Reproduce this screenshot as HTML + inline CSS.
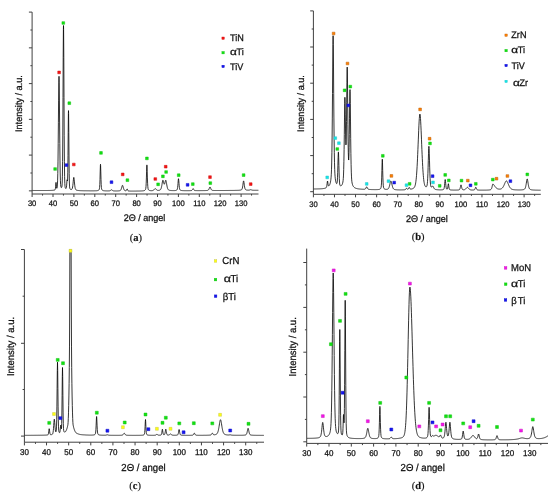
<!DOCTYPE html>
<html lang="en"><head><meta charset="utf-8"><title>XRD patterns</title>
<style>
html,body{margin:0;padding:0;background:#fff}
body{width:550px;height:497px;overflow:hidden}
svg{display:block;text-rendering:geometricPrecision;font-family:"Liberation Sans","DejaVu Sans",sans-serif}
</style></head><body>
<svg width="550" height="497" viewBox="0 0 550 497">
<rect width="550" height="497" fill="#fff"/>
<defs>
<clipPath id="clipa"><rect x="32.10" y="11.80" width="228.40" height="181.90"/></clipPath>
<clipPath id="clipb"><rect x="313.40" y="10.60" width="229.40" height="183.40"/></clipPath>
<clipPath id="clipc"><rect x="24.40" y="249.20" width="241.60" height="192.70"/></clipPath>
<clipPath id="clipd"><rect x="306.70" y="248.30" width="243.30" height="194.80"/></clipPath>
</defs>
<g id="panel-a">
<path d="M32.10 12.10V194.00H258.50M32.10 194.00v3.00M42.55 194.00v1.60M53.00 194.00v3.00M63.45 194.00v1.60M73.90 194.00v3.00M84.35 194.00v1.60M94.80 194.00v3.00M105.25 194.00v1.60M115.70 194.00v3.00M126.15 194.00v1.60M136.60 194.00v3.00M147.05 194.00v1.60M157.50 194.00v3.00M167.95 194.00v1.60M178.40 194.00v3.00M188.85 194.00v1.60M199.30 194.00v3.00M209.75 194.00v1.60M220.20 194.00v3.00M230.65 194.00v1.60M241.10 194.00v3.00M251.55 194.00v1.60M32.10 12.10h-3.20M32.10 30.00h-1.70M32.10 47.85h-3.20M32.10 65.70h-1.70M32.10 83.60h-3.20M32.10 101.50h-1.70M32.10 119.35h-3.20M32.10 137.20h-1.70M32.10 155.10h-3.20M32.10 173.00h-1.70M32.10 190.85h-3.20" fill="none" stroke="#404040" stroke-width="1.00"/>
<g fill="#111" stroke="#111" stroke-width="0.25">
<text transform="translate(32.10 206.20) scale(1.000 1.050)" font-size="7.60" text-anchor="middle">30</text>
<text transform="translate(53.00 206.20) scale(1.000 1.050)" font-size="7.60" text-anchor="middle">40</text>
<text transform="translate(73.90 206.20) scale(1.000 1.050)" font-size="7.60" text-anchor="middle">50</text>
<text transform="translate(94.80 206.20) scale(1.000 1.050)" font-size="7.60" text-anchor="middle">60</text>
<text transform="translate(115.70 206.20) scale(1.000 1.050)" font-size="7.60" text-anchor="middle">70</text>
<text transform="translate(136.60 206.20) scale(1.000 1.050)" font-size="7.60" text-anchor="middle">80</text>
<text transform="translate(157.50 206.20) scale(1.000 1.050)" font-size="7.60" text-anchor="middle">90</text>
<text transform="translate(178.40 206.20) scale(1.000 1.050)" font-size="7.60" text-anchor="middle">100</text>
<text transform="translate(199.30 206.20) scale(1.000 1.050)" font-size="7.60" text-anchor="middle">110</text>
<text transform="translate(220.20 206.20) scale(1.000 1.050)" font-size="7.60" text-anchor="middle">120</text>
<text transform="translate(241.10 206.20) scale(1.000 1.050)" font-size="7.60" text-anchor="middle">130</text>
<text transform="translate(144.50 221.00) scale(1.000 1.050)" font-size="9.05" text-anchor="middle">2Θ / angel</text>
<text transform="translate(22.20 103.60) rotate(-90) scale(1.000 1.050)" font-size="9.15" text-anchor="middle">Intensity / a.u.</text>
</g>
<path clip-path="url(#clipa)" d="M32.40 190.48 L32.60 190.48 L32.80 190.48 L33.00 190.48 L33.20 190.48 L33.40 190.48 L33.60 190.48 L33.80 190.48 L34.00 190.48 L34.20 190.48 L34.40 190.49 L34.60 190.49 L34.80 190.49 L35.00 190.49 L35.20 190.49 L35.40 190.49 L35.60 190.49 L35.80 190.49 L36.00 190.49 L36.20 190.49 L36.40 190.49 L36.60 190.49 L36.80 190.50 L37.00 190.50 L37.20 190.50 L37.40 190.50 L37.60 190.50 L37.80 190.50 L38.00 190.50 L38.20 190.50 L38.40 190.50 L38.60 190.50 L38.80 190.50 L39.00 190.50 L39.20 190.50 L39.40 190.50 L39.60 190.51 L39.80 190.51 L40.00 190.51 L40.20 190.51 L40.40 190.51 L40.60 190.51 L40.80 190.51 L41.00 190.51 L41.20 190.51 L41.40 190.51 L41.60 190.51 L41.80 190.51 L42.00 190.51 L42.20 190.51 L42.40 190.51 L42.60 190.51 L42.80 190.51 L43.00 190.51 L43.20 190.51 L43.40 190.51 L43.60 190.51 L43.80 190.51 L44.00 190.51 L44.20 190.51 L44.40 190.51 L44.60 190.51 L44.80 190.51 L45.00 190.51 L45.20 190.51 L45.40 190.51 L45.60 190.51 L45.80 190.51 L46.00 190.50 L46.20 190.50 L46.40 190.50 L46.60 190.50 L46.80 190.50 L47.00 190.50 L47.20 190.50 L47.40 190.49 L47.60 190.49 L47.80 190.49 L48.00 190.49 L48.20 190.49 L48.40 190.48 L48.60 190.48 L48.80 190.48 L49.00 190.47 L49.20 190.47 L49.40 190.47 L49.60 190.46 L49.80 190.46 L50.00 190.45 L50.20 190.45 L50.40 190.44 L50.60 190.43 L50.80 190.43 L51.00 190.42 L51.20 190.41 L51.40 190.40 L51.60 190.39 L51.80 190.38 L52.00 190.37 L52.20 190.36 L52.40 190.34 L52.60 190.33 L52.80 190.31 L53.00 190.29 L53.20 190.27 L53.40 190.24 L53.60 190.21 L53.80 190.18 L54.00 190.14 L54.20 190.10 L54.40 190.05 L54.60 189.98 L54.80 189.89 L55.00 189.76 L55.20 189.47 L55.40 188.68 L55.60 186.83 L55.80 184.06 L56.00 182.40 L56.00 182.40 L56.20 183.82 L56.40 186.34 L56.60 187.89 L56.80 188.30 L57.00 187.99 L57.20 187.03 L57.40 184.96 L57.60 180.84 L57.80 173.35 L58.00 161.16 L58.20 143.73 L58.40 122.25 L58.60 100.17 L58.80 82.94 L59.00 76.30 L59.00 76.30 L59.20 82.89 L59.40 100.05 L59.60 122.07 L59.80 143.49 L60.00 160.85 L60.20 172.96 L60.40 180.37 L60.60 184.40 L60.80 186.37 L61.00 187.25 L61.20 187.58 L61.40 187.63 L61.60 187.48 L61.80 187.05 L62.00 185.96 L62.20 183.13 L62.40 176.18 L62.60 161.35 L62.80 135.04 L63.00 97.61 L63.20 57.19 L63.40 29.45 L63.50 25.50 L63.60 29.47 L63.80 57.26 L64.00 97.72 L64.20 135.19 L64.40 161.56 L64.60 176.45 L64.80 183.45 L65.00 186.35 L65.20 187.52 L65.40 188.05 L65.60 188.33 L65.80 188.49 L66.00 188.51 L66.20 188.31 L66.40 187.58 L66.60 185.83 L66.80 183.01 L67.00 180.30 L67.10 179.70 L67.20 179.81 L67.40 180.96 L67.60 179.86 L67.80 172.23 L68.00 155.43 L68.20 132.16 L68.40 113.44 L68.50 110.60 L68.60 113.52 L68.80 132.41 L69.00 156.03 L69.20 173.64 L69.40 183.03 L69.60 186.90 L69.80 188.29 L70.00 188.84 L70.20 189.13 L70.40 189.31 L70.60 189.43 L70.80 189.51 L71.00 189.55 L71.20 189.55 L71.40 189.52 L71.60 189.45 L71.80 189.31 L72.00 189.06 L72.20 188.65 L72.40 188.00 L72.60 187.03 L72.80 185.67 L73.00 183.91 L73.20 181.84 L73.40 179.73 L73.60 178.05 L73.80 177.40 L73.80 177.40 L74.00 178.08 L74.20 179.79 L74.40 181.93 L74.60 184.02 L74.80 185.82 L75.00 187.21 L75.20 188.22 L75.40 188.91 L75.60 189.36 L75.80 189.65 L76.00 189.85 L76.20 189.99 L76.40 190.09 L76.60 190.18 L76.80 190.24 L77.00 190.30 L77.20 190.34 L77.40 190.39 L77.60 190.42 L77.80 190.45 L78.00 190.48 L78.20 190.50 L78.40 190.52 L78.60 190.54 L78.80 190.56 L79.00 190.58 L79.20 190.59 L79.40 190.60 L79.60 190.62 L79.80 190.63 L80.00 190.64 L80.20 190.65 L80.40 190.66 L80.60 190.66 L80.80 190.67 L81.00 190.68 L81.20 190.69 L81.40 190.69 L81.60 190.70 L81.80 190.71 L82.00 190.71 L82.20 190.72 L82.40 190.72 L82.60 190.73 L82.80 190.73 L83.00 190.74 L83.20 190.74 L83.40 190.74 L83.60 190.75 L83.80 190.75 L84.00 190.76 L84.20 190.76 L84.40 190.76 L84.60 190.77 L84.80 190.77 L85.00 190.77 L85.20 190.78 L85.40 190.78 L85.60 190.78 L85.80 190.78 L86.00 190.79 L86.20 190.79 L86.40 190.79 L86.60 190.79 L86.80 190.80 L87.00 190.80 L87.20 190.80 L87.40 190.80 L87.60 190.80 L87.80 190.81 L88.00 190.81 L88.20 190.81 L88.40 190.81 L88.60 190.81 L88.80 190.82 L89.00 190.82 L89.20 190.82 L89.40 190.82 L89.60 190.82 L89.80 190.82 L90.00 190.82 L90.20 190.83 L90.40 190.83 L90.60 190.83 L90.80 190.83 L91.00 190.83 L91.20 190.83 L91.40 190.83 L91.60 190.83 L91.80 190.83 L92.00 190.83 L92.20 190.83 L92.40 190.83 L92.60 190.83 L92.80 190.83 L93.00 190.83 L93.20 190.83 L93.40 190.83 L93.60 190.83 L93.80 190.83 L94.00 190.83 L94.20 190.82 L94.40 190.82 L94.60 190.82 L94.80 190.81 L95.00 190.81 L95.20 190.80 L95.40 190.80 L95.60 190.79 L95.80 190.78 L96.00 190.77 L96.20 190.76 L96.40 190.75 L96.60 190.74 L96.80 190.72 L97.00 190.70 L97.20 190.67 L97.40 190.64 L97.60 190.61 L97.80 190.56 L98.00 190.51 L98.20 190.43 L98.40 190.34 L98.60 190.22 L98.80 190.06 L99.00 189.82 L99.20 189.47 L99.40 188.81 L99.60 187.44 L99.80 184.55 L100.00 179.32 L100.20 171.93 L100.40 165.37 L100.50 164.30 L100.60 165.38 L100.80 171.93 L101.00 179.32 L101.20 184.56 L101.40 187.45 L101.60 188.83 L101.80 189.48 L102.00 189.85 L102.20 190.08 L102.40 190.25 L102.60 190.37 L102.80 190.47 L103.00 190.54 L103.20 190.60 L103.40 190.65 L103.60 190.69 L103.80 190.72 L104.00 190.75 L104.20 190.77 L104.40 190.79 L104.60 190.81 L104.80 190.82 L105.00 190.83 L105.20 190.85 L105.40 190.86 L105.60 190.86 L105.80 190.87 L106.00 190.88 L106.20 190.89 L106.40 190.89 L106.60 190.90 L106.80 190.90 L107.00 190.90 L107.20 190.90 L107.40 190.91 L107.60 190.91 L107.80 190.91 L108.00 190.91 L108.20 190.91 L108.40 190.90 L108.60 190.90 L108.80 190.89 L109.00 190.88 L109.20 190.86 L109.40 190.84 L109.60 190.80 L109.80 190.74 L110.00 190.67 L110.20 190.58 L110.40 190.46 L110.60 190.32 L110.80 190.16 L111.00 190.01 L111.20 189.88 L111.40 189.81 L111.50 189.80 L111.60 189.81 L111.80 189.89 L112.00 190.02 L112.20 190.17 L112.40 190.33 L112.60 190.47 L112.80 190.59 L113.00 190.69 L113.20 190.77 L113.40 190.83 L113.60 190.87 L113.80 190.89 L114.00 190.91 L114.20 190.93 L114.40 190.94 L114.60 190.95 L114.80 190.95 L115.00 190.96 L115.20 190.96 L115.40 190.96 L115.60 190.97 L115.80 190.97 L116.00 190.97 L116.20 190.97 L116.40 190.97 L116.60 190.96 L116.80 190.96 L117.00 190.96 L117.20 190.95 L117.40 190.95 L117.60 190.94 L117.80 190.94 L118.00 190.93 L118.20 190.92 L118.40 190.91 L118.60 190.89 L118.80 190.87 L119.00 190.86 L119.20 190.83 L119.40 190.80 L119.60 190.76 L119.80 190.71 L120.00 190.65 L120.20 190.55 L120.40 190.41 L120.60 190.22 L120.80 189.95 L121.00 189.59 L121.20 189.12 L121.40 188.53 L121.60 187.84 L121.80 187.09 L122.00 186.34 L122.20 185.71 L122.40 185.35 L122.50 185.30 L122.60 185.35 L122.80 185.72 L123.00 186.34 L123.20 187.09 L123.40 187.84 L123.60 188.53 L123.80 189.12 L124.00 189.59 L124.20 189.96 L124.40 190.22 L124.60 190.41 L124.80 190.55 L125.00 190.64 L125.20 190.70 L125.40 190.73 L125.60 190.75 L125.80 190.74 L126.00 190.70 L126.20 190.58 L126.40 190.33 L126.60 189.92 L126.80 189.39 L127.00 188.96 L127.10 188.90 L127.20 188.98 L127.40 189.43 L127.60 189.98 L127.80 190.42 L128.00 190.70 L128.20 190.85 L128.40 190.93 L128.60 190.97 L128.80 191.00 L129.00 191.02 L129.20 191.04 L129.40 191.05 L129.60 191.06 L129.80 191.07 L130.00 191.08 L130.20 191.09 L130.40 191.09 L130.60 191.09 L130.80 191.10 L131.00 191.10 L131.20 191.10 L131.40 191.10 L131.60 191.10 L131.80 191.10 L132.00 191.10 L132.20 191.10 L132.40 191.10 L132.60 191.10 L132.80 191.10 L133.00 191.10 L133.20 191.10 L133.40 191.10 L133.60 191.10 L133.80 191.10 L134.00 191.09 L134.20 191.09 L134.40 191.09 L134.60 191.09 L134.80 191.09 L135.00 191.09 L135.20 191.08 L135.40 191.08 L135.60 191.08 L135.80 191.08 L136.00 191.08 L136.20 191.07 L136.40 191.07 L136.60 191.07 L136.80 191.07 L137.00 191.06 L137.20 191.06 L137.40 191.06 L137.60 191.06 L137.80 191.05 L138.00 191.05 L138.20 191.05 L138.40 191.04 L138.60 191.04 L138.80 191.03 L139.00 191.03 L139.20 191.02 L139.40 191.02 L139.60 191.02 L139.80 191.01 L140.00 191.00 L140.20 191.00 L140.40 190.99 L140.60 190.99 L140.80 190.98 L141.00 190.97 L141.20 190.96 L141.40 190.95 L141.60 190.94 L141.80 190.93 L142.00 190.92 L142.20 190.90 L142.40 190.89 L142.60 190.87 L142.80 190.85 L143.00 190.83 L143.20 190.81 L143.40 190.78 L143.60 190.74 L143.80 190.70 L144.00 190.65 L144.20 190.60 L144.40 190.52 L144.60 190.43 L144.80 190.32 L145.00 190.17 L145.20 189.97 L145.40 189.68 L145.60 189.21 L145.80 188.32 L146.00 186.55 L146.20 183.24 L146.40 177.95 L146.60 171.24 L146.80 165.76 L146.90 164.90 L147.00 165.76 L147.20 171.23 L147.40 177.93 L147.60 183.22 L147.80 186.51 L148.00 188.28 L148.20 189.16 L148.40 189.63 L148.60 189.91 L148.80 190.10 L149.00 190.24 L149.20 190.35 L149.40 190.43 L149.60 190.49 L149.80 190.54 L150.00 190.58 L150.20 190.61 L150.40 190.64 L150.60 190.65 L150.80 190.67 L151.00 190.68 L151.20 190.68 L151.40 190.68 L151.60 190.68 L151.80 190.67 L152.00 190.66 L152.20 190.64 L152.40 190.62 L152.60 190.58 L152.80 190.53 L153.00 190.46 L153.20 190.37 L153.40 190.25 L153.60 190.11 L153.80 189.93 L154.00 189.72 L154.20 189.49 L154.40 189.25 L154.60 189.01 L154.80 188.80 L155.00 188.66 L155.20 188.60 L155.20 188.60 L155.40 188.64 L155.60 188.78 L155.80 188.97 L156.00 189.19 L156.20 189.42 L156.40 189.64 L156.60 189.83 L156.80 190.00 L157.00 190.13 L157.20 190.23 L157.40 190.30 L157.60 190.36 L157.80 190.39 L158.00 190.40 L158.20 190.41 L158.40 190.40 L158.60 190.39 L158.80 190.36 L159.00 190.34 L159.20 190.30 L159.40 190.25 L159.60 190.19 L159.80 190.12 L160.00 190.02 L160.20 189.89 L160.40 189.72 L160.60 189.48 L160.80 189.17 L161.00 188.74 L161.20 188.17 L161.40 187.45 L161.60 186.57 L161.80 185.52 L162.00 184.35 L162.20 183.11 L162.40 181.91 L162.60 180.93 L162.80 180.32 L162.90 180.20 L163.00 180.21 L163.20 180.60 L163.40 181.34 L163.60 182.22 L163.80 183.07 L164.00 183.73 L164.20 184.13 L164.40 184.21 L164.60 183.97 L164.80 183.43 L165.00 182.66 L165.20 181.78 L165.40 180.94 L165.60 180.36 L165.80 180.20 L165.80 180.20 L166.00 180.56 L166.20 181.38 L166.40 182.49 L166.60 183.72 L166.80 184.94 L167.00 186.05 L167.20 187.02 L167.40 187.82 L167.60 188.46 L167.80 188.95 L168.00 189.32 L168.20 189.59 L168.40 189.79 L168.60 189.94 L168.80 190.06 L169.00 190.14 L169.20 190.21 L169.40 190.27 L169.60 190.32 L169.80 190.36 L170.00 190.39 L170.20 190.42 L170.40 190.45 L170.60 190.47 L170.80 190.49 L171.00 190.51 L171.20 190.53 L171.40 190.54 L171.60 190.55 L171.80 190.56 L172.00 190.57 L172.20 190.58 L172.40 190.58 L172.60 190.59 L172.80 190.59 L173.00 190.60 L173.20 190.60 L173.40 190.60 L173.60 190.60 L173.80 190.59 L174.00 190.59 L174.20 190.58 L174.40 190.58 L174.60 190.57 L174.80 190.56 L175.00 190.54 L175.20 190.52 L175.40 190.50 L175.60 190.47 L175.80 190.44 L176.00 190.40 L176.20 190.34 L176.40 190.27 L176.60 190.18 L176.80 190.04 L177.00 189.82 L177.20 189.44 L177.40 188.77 L177.60 187.62 L177.80 185.84 L178.00 183.46 L178.20 180.86 L178.40 178.98 L178.50 178.70 L178.60 178.98 L178.80 180.86 L179.00 183.47 L179.20 185.84 L179.40 187.62 L179.60 188.77 L179.80 189.45 L180.00 189.83 L180.20 190.05 L180.40 190.18 L180.60 190.28 L180.80 190.35 L181.00 190.41 L181.20 190.45 L181.40 190.49 L181.60 190.52 L181.80 190.54 L182.00 190.56 L182.20 190.58 L182.40 190.59 L182.60 190.61 L182.80 190.62 L183.00 190.62 L183.20 190.63 L183.40 190.64 L183.60 190.65 L183.80 190.65 L184.00 190.66 L184.20 190.66 L184.40 190.66 L184.60 190.67 L184.80 190.67 L185.00 190.67 L185.20 190.67 L185.40 190.67 L185.60 190.68 L185.80 190.68 L186.00 190.68 L186.20 190.68 L186.40 190.68 L186.60 190.68 L186.80 190.68 L187.00 190.68 L187.20 190.68 L187.40 190.68 L187.60 190.68 L187.80 190.67 L188.00 190.67 L188.20 190.67 L188.40 190.67 L188.60 190.67 L188.80 190.67 L189.00 190.66 L189.20 190.66 L189.40 190.66 L189.60 190.65 L189.80 190.65 L190.00 190.64 L190.20 190.63 L190.40 190.62 L190.60 190.61 L190.80 190.60 L191.00 190.58 L191.20 190.56 L191.40 190.52 L191.60 190.46 L191.80 190.36 L192.00 190.20 L192.20 189.96 L192.40 189.64 L192.60 189.26 L192.80 188.89 L193.00 188.64 L193.10 188.60 L193.20 188.63 L193.40 188.88 L193.60 189.26 L193.80 189.64 L194.00 189.95 L194.20 190.19 L194.40 190.34 L194.60 190.44 L194.80 190.50 L195.00 190.54 L195.20 190.56 L195.40 190.58 L195.60 190.59 L195.80 190.60 L196.00 190.61 L196.20 190.61 L196.40 190.62 L196.60 190.62 L196.80 190.62 L197.00 190.63 L197.20 190.63 L197.40 190.63 L197.60 190.63 L197.80 190.63 L198.00 190.63 L198.20 190.63 L198.40 190.63 L198.60 190.63 L198.80 190.63 L199.00 190.63 L199.20 190.63 L199.40 190.63 L199.60 190.63 L199.80 190.63 L200.00 190.63 L200.20 190.63 L200.40 190.62 L200.60 190.62 L200.80 190.62 L201.00 190.62 L201.20 190.62 L201.40 190.62 L201.60 190.62 L201.80 190.61 L202.00 190.61 L202.20 190.61 L202.40 190.61 L202.60 190.61 L202.80 190.60 L203.00 190.60 L203.20 190.60 L203.40 190.60 L203.60 190.59 L203.80 190.59 L204.00 190.59 L204.20 190.58 L204.40 190.58 L204.60 190.57 L204.80 190.57 L205.00 190.56 L205.20 190.56 L205.40 190.55 L205.60 190.54 L205.80 190.54 L206.00 190.53 L206.20 190.52 L206.40 190.51 L206.60 190.49 L206.80 190.48 L207.00 190.46 L207.20 190.44 L207.40 190.41 L207.60 190.37 L207.80 190.32 L208.00 190.24 L208.20 190.13 L208.40 189.97 L208.60 189.74 L208.80 189.43 L209.00 189.03 L209.20 188.55 L209.40 188.03 L209.60 187.53 L209.80 187.15 L210.00 187.00 L210.00 187.00 L210.20 187.14 L210.40 187.52 L210.60 188.03 L210.80 188.55 L211.00 189.02 L211.20 189.41 L211.40 189.72 L211.60 189.95 L211.80 190.11 L212.00 190.22 L212.20 190.29 L212.40 190.34 L212.60 190.38 L212.80 190.40 L213.00 190.42 L213.20 190.44 L213.40 190.45 L213.60 190.46 L213.80 190.47 L214.00 190.48 L214.20 190.49 L214.40 190.49 L214.60 190.50 L214.80 190.50 L215.00 190.51 L215.20 190.51 L215.40 190.51 L215.60 190.51 L215.80 190.51 L216.00 190.52 L216.20 190.52 L216.40 190.52 L216.60 190.52 L216.80 190.52 L217.00 190.52 L217.20 190.52 L217.40 190.52 L217.60 190.52 L217.80 190.52 L218.00 190.52 L218.20 190.52 L218.40 190.52 L218.60 190.52 L218.80 190.52 L219.00 190.52 L219.20 190.52 L219.40 190.52 L219.60 190.52 L219.80 190.52 L220.00 190.51 L220.20 190.51 L220.40 190.51 L220.60 190.51 L220.80 190.51 L221.00 190.51 L221.20 190.51 L221.40 190.51 L221.60 190.51 L221.80 190.51 L222.00 190.51 L222.20 190.50 L222.40 190.50 L222.60 190.50 L222.80 190.50 L223.00 190.50 L223.20 190.50 L223.40 190.50 L223.60 190.50 L223.80 190.50 L224.00 190.49 L224.20 190.49 L224.40 190.49 L224.60 190.49 L224.80 190.49 L225.00 190.49 L225.20 190.49 L225.40 190.49 L225.60 190.48 L225.80 190.48 L226.00 190.48 L226.20 190.48 L226.40 190.48 L226.60 190.48 L226.80 190.48 L227.00 190.48 L227.20 190.47 L227.40 190.47 L227.60 190.47 L227.80 190.47 L228.00 190.47 L228.20 190.47 L228.40 190.47 L228.60 190.46 L228.80 190.46 L229.00 190.46 L229.20 190.46 L229.40 190.46 L229.60 190.46 L229.80 190.45 L230.00 190.45 L230.20 190.45 L230.40 190.45 L230.60 190.45 L230.80 190.45 L231.00 190.44 L231.20 190.44 L231.40 190.44 L231.60 190.44 L231.80 190.44 L232.00 190.43 L232.20 190.43 L232.40 190.43 L232.60 190.43 L232.80 190.43 L233.00 190.42 L233.20 190.42 L233.40 190.42 L233.60 190.42 L233.80 190.41 L234.00 190.41 L234.20 190.41 L234.40 190.41 L234.60 190.40 L234.80 190.40 L235.00 190.40 L235.20 190.39 L235.40 190.39 L235.60 190.39 L235.80 190.38 L236.00 190.38 L236.20 190.38 L236.40 190.37 L236.60 190.37 L236.80 190.36 L237.00 190.36 L237.20 190.35 L237.40 190.35 L237.60 190.34 L237.80 190.33 L238.00 190.32 L238.20 190.32 L238.40 190.31 L238.60 190.30 L238.80 190.29 L239.00 190.27 L239.20 190.26 L239.40 190.24 L239.60 190.23 L239.80 190.21 L240.00 190.18 L240.20 190.16 L240.40 190.12 L240.60 190.09 L240.80 190.04 L241.00 189.99 L241.20 189.92 L241.40 189.82 L241.60 189.68 L241.80 189.47 L242.00 189.15 L242.20 188.66 L242.40 187.93 L242.60 186.93 L242.80 185.65 L243.00 184.14 L243.20 182.61 L243.40 181.38 L243.60 180.90 L243.60 180.90 L243.80 181.38 L244.00 182.60 L244.20 184.13 L244.40 185.63 L244.60 186.92 L244.80 187.92 L245.00 188.63 L245.20 189.12 L245.40 189.44 L245.60 189.65 L245.80 189.78 L246.00 189.88 L246.20 189.94 L246.40 190.00 L246.60 190.04 L246.80 190.07 L247.00 190.10 L247.20 190.12 L247.40 190.14 L247.60 190.15 L247.80 190.16 L248.00 190.17 L248.20 190.17 L248.40 190.17 L248.60 190.17 L248.80 190.16 L249.00 190.14 L249.20 190.11 L249.40 190.06 L249.60 190.01 L249.80 189.94 L250.00 189.87 L250.20 189.80 L250.40 189.74 L250.60 189.70 L250.70 189.70 L250.80 189.71 L251.00 189.74 L251.20 189.81 L251.40 189.89 L251.60 189.96 L251.80 190.03 L252.00 190.09 L252.20 190.14 L252.40 190.18 L252.60 190.21 L252.80 190.23 L253.00 190.24 L253.20 190.25 L253.40 190.26 L253.60 190.26 L253.80 190.27 L254.00 190.27 L254.20 190.27 L254.40 190.27 L254.60 190.27 L254.80 190.28 L255.00 190.28 L255.20 190.28 L255.40 190.28 L255.60 190.28 L255.80 190.28 L256.00 190.28 L256.20 190.28 L256.40 190.28 L256.60 190.28 L256.80 190.28 L257.00 190.28 L257.20 190.28 L257.40 190.28 L257.60 190.28 L257.80 190.28 L258.00 190.28 L258.20 190.28 L258.40 190.28" fill="none" stroke="#000" stroke-width="0.80" stroke-linejoin="round"/>
<path d="M61.95 21.65h2.70v2.70h-2.70zM67.95 101.85h2.70v2.70h-2.70zM53.75 167.65h2.70v2.70h-2.70zM99.65 151.55h2.70v2.70h-2.70zM126.05 178.85h2.70v2.70h-2.70zM145.55 157.05h2.70v2.70h-2.70zM156.75 182.95h2.70v2.70h-2.70zM161.55 174.95h2.70v2.70h-2.70zM164.75 170.65h2.70v2.70h-2.70zM177.35 173.85h2.70v2.70h-2.70zM191.45 182.75h2.70v2.70h-2.70zM208.95 181.75h2.70v2.70h-2.70zM242.25 173.75h2.70v2.70h-2.70z" fill="#12e212" stroke="#10c010" stroke-width="0.5"/>
<path d="M57.75 71.05h2.70v2.70h-2.70zM72.45 163.15h2.70v2.70h-2.70zM121.35 173.05h2.70v2.70h-2.70zM153.95 177.65h2.70v2.70h-2.70zM164.35 165.35h2.70v2.70h-2.70zM208.65 175.75h2.70v2.70h-2.70zM249.35 182.75h2.70v2.70h-2.70z" fill="#f31414" stroke="#d01010" stroke-width="0.5"/>
<path d="M65.15 163.75h2.70v2.70h-2.70zM110.15 180.85h2.70v2.70h-2.70zM186.25 183.45h2.70v2.70h-2.70z" fill="#1414f0" stroke="#1010c8" stroke-width="0.5"/>
<g fill="#111" stroke="#111" stroke-width="0.25">
<rect x="221.90" y="37.00" width="2.40" height="2.40" fill="#f31414" stroke="#d01010" stroke-width="0.4"/>
<text transform="translate(230.10 40.90) scale(1.000 1.050)" font-size="9.10">TiN</text>
<rect x="221.90" y="51.50" width="2.40" height="2.40" fill="#12e212" stroke="#10c010" stroke-width="0.4"/>
<text transform="translate(230.10 55.20) scale(1.300 1.050)" font-size="9.10">α</text>
<text transform="translate(236.50 55.20) scale(1.000 1.050)" font-size="9.10">Ti</text>
<rect x="221.90" y="65.20" width="2.40" height="2.40" fill="#1414f0" stroke="#1010c8" stroke-width="0.4"/>
<text transform="translate(230.10 69.90) scale(1.000 1.050)" font-size="9.10">TiV</text>
</g>
<text x="135.80" y="240.80" font-family="'Liberation Serif', 'DejaVu Serif', serif" font-size="10.50" text-anchor="middle" fill="#111" stroke="#111" stroke-width="0.15">(<tspan font-weight="bold">a</tspan>)</text>
</g>
<g id="panel-b">
<path d="M313.40 10.90V194.30H540.80M313.40 194.30v3.00M323.94 194.30v1.60M334.47 194.30v3.00M345.00 194.30v1.60M355.54 194.30v3.00M366.07 194.30v1.60M376.61 194.30v3.00M387.14 194.30v1.60M397.68 194.30v3.00M408.21 194.30v1.60M418.75 194.30v3.00M429.28 194.30v1.60M439.82 194.30v3.00M450.36 194.30v1.60M460.89 194.30v3.00M471.42 194.30v1.60M481.96 194.30v3.00M492.50 194.30v1.60M503.03 194.30v3.00M513.57 194.30v1.60M524.10 194.30v3.00M534.63 194.30v1.60M313.40 10.90h-3.20M313.40 29.00h-1.70M313.40 47.00h-3.20M313.40 65.10h-1.70M313.40 83.20h-3.20M313.40 101.30h-1.70M313.40 119.40h-3.20M313.40 137.50h-1.70M313.40 155.60h-3.20M313.40 173.70h-1.70M313.40 191.70h-3.20" fill="none" stroke="#404040" stroke-width="1.00"/>
<g fill="#111" stroke="#111" stroke-width="0.25">
<text transform="translate(313.40 207.00) scale(1.000 1.050)" font-size="7.60" text-anchor="middle">30</text>
<text transform="translate(334.47 207.00) scale(1.000 1.050)" font-size="7.60" text-anchor="middle">40</text>
<text transform="translate(355.54 207.00) scale(1.000 1.050)" font-size="7.60" text-anchor="middle">50</text>
<text transform="translate(376.61 207.00) scale(1.000 1.050)" font-size="7.60" text-anchor="middle">60</text>
<text transform="translate(397.68 207.00) scale(1.000 1.050)" font-size="7.60" text-anchor="middle">70</text>
<text transform="translate(418.75 207.00) scale(1.000 1.050)" font-size="7.60" text-anchor="middle">80</text>
<text transform="translate(439.82 207.00) scale(1.000 1.050)" font-size="7.60" text-anchor="middle">90</text>
<text transform="translate(460.89 207.00) scale(1.000 1.050)" font-size="7.60" text-anchor="middle">100</text>
<text transform="translate(481.96 207.00) scale(1.000 1.050)" font-size="7.60" text-anchor="middle">110</text>
<text transform="translate(503.03 207.00) scale(1.000 1.050)" font-size="7.60" text-anchor="middle">120</text>
<text transform="translate(524.10 207.00) scale(1.000 1.050)" font-size="7.60" text-anchor="middle">130</text>
<text transform="translate(426.90 222.00) scale(1.000 1.050)" font-size="9.05" text-anchor="middle">2Θ / angel</text>
<text transform="translate(303.80 103.50) rotate(-90) scale(1.000 1.050)" font-size="9.15" text-anchor="middle">Intensity / a.u.</text>
</g>
<path clip-path="url(#clipb)" d="M313.70 188.98 L313.90 188.98 L314.10 188.98 L314.30 188.98 L314.50 188.98 L314.70 188.97 L314.90 188.97 L315.10 188.97 L315.30 188.97 L315.50 188.96 L315.70 188.96 L315.90 188.96 L316.10 188.95 L316.30 188.95 L316.50 188.95 L316.70 188.94 L316.90 188.94 L317.10 188.93 L317.30 188.93 L317.50 188.92 L317.70 188.92 L317.90 188.91 L318.10 188.91 L318.30 188.90 L318.50 188.90 L318.70 188.89 L318.90 188.88 L319.10 188.87 L319.30 188.87 L319.50 188.86 L319.70 188.85 L319.90 188.84 L320.10 188.83 L320.30 188.82 L320.50 188.81 L320.70 188.80 L320.90 188.79 L321.10 188.78 L321.30 188.76 L321.50 188.75 L321.70 188.73 L321.90 188.72 L322.10 188.70 L322.30 188.68 L322.50 188.66 L322.70 188.64 L322.90 188.62 L323.10 188.60 L323.30 188.57 L323.50 188.54 L323.70 188.51 L323.90 188.48 L324.10 188.45 L324.30 188.41 L324.50 188.36 L324.70 188.32 L324.90 188.27 L325.10 188.21 L325.30 188.14 L325.50 188.06 L325.70 187.97 L325.90 187.86 L326.10 187.71 L326.30 187.49 L326.50 187.11 L326.70 186.42 L326.90 185.27 L327.10 183.64 L327.30 181.90 L327.50 181.00 L327.50 181.00 L327.70 181.67 L327.90 183.17 L328.10 184.56 L328.30 185.45 L328.50 185.87 L328.70 185.96 L328.90 185.87 L329.10 185.67 L329.30 185.40 L329.50 185.06 L329.70 184.65 L329.90 184.14 L330.10 183.54 L330.30 182.80 L330.50 181.88 L330.70 180.73 L330.90 179.23 L331.10 177.19 L331.30 174.23 L331.50 169.78 L331.70 162.98 L331.90 152.73 L332.10 137.98 L332.30 118.09 L332.50 93.56 L332.70 67.04 L332.90 44.76 L333.10 35.70 L333.10 35.70 L333.30 44.73 L333.50 66.98 L333.70 93.45 L333.90 117.95 L334.10 137.80 L334.30 152.52 L334.50 162.72 L334.70 169.48 L334.90 173.88 L335.10 176.78 L335.30 178.77 L335.50 180.20 L335.70 181.27 L335.90 182.09 L336.10 182.72 L336.30 183.20 L336.50 183.52 L336.70 183.65 L336.90 183.49 L337.10 182.78 L337.30 181.04 L337.50 177.70 L337.70 172.32 L337.90 165.18 L338.10 157.70 L338.30 152.60 L338.40 151.90 L338.50 152.68 L338.70 157.95 L338.90 165.60 L339.10 172.93 L339.30 178.50 L339.50 182.06 L339.70 184.03 L339.90 185.02 L340.10 185.48 L340.30 185.70 L340.50 185.80 L340.70 185.82 L340.90 185.80 L341.10 185.72 L341.30 185.61 L341.50 185.44 L341.70 185.23 L341.90 184.95 L342.10 184.61 L342.30 184.18 L342.50 183.64 L342.70 182.93 L342.90 181.98 L343.10 180.60 L343.30 178.47 L343.50 175.05 L343.70 169.59 L343.90 161.25 L344.10 149.49 L344.30 134.50 L344.50 117.95 L344.70 103.67 L344.90 97.30 L344.90 97.30 L345.10 101.89 L345.30 114.14 L345.50 128.04 L345.70 139.14 L345.90 144.92 L346.10 144.04 L346.30 136.06 L346.50 121.47 L346.70 102.17 L346.90 82.29 L347.10 68.91 L347.20 67.10 L347.30 69.16 L347.50 83.09 L347.70 103.76 L347.90 124.35 L348.10 141.13 L348.30 152.70 L348.50 158.91 L348.70 160.04 L348.90 156.28 L349.10 147.69 L349.30 134.59 L349.50 118.24 L349.70 101.80 L349.90 90.95 L350.00 89.60 L350.10 91.48 L350.30 103.42 L350.50 121.04 L350.70 138.76 L350.90 153.61 L351.10 164.64 L351.30 172.13 L351.50 176.90 L351.70 179.86 L351.90 181.73 L352.10 182.99 L352.30 183.89 L352.50 184.59 L352.70 185.16 L352.90 185.62 L353.10 186.01 L353.30 186.34 L353.50 186.62 L353.70 186.87 L353.90 187.09 L354.10 187.27 L354.30 187.44 L354.50 187.59 L354.70 187.72 L354.90 187.84 L355.10 187.95 L355.30 188.05 L355.50 188.14 L355.70 188.22 L355.90 188.29 L356.10 188.36 L356.30 188.42 L356.50 188.48 L356.70 188.53 L356.90 188.58 L357.10 188.63 L357.30 188.67 L357.50 188.72 L357.70 188.75 L357.90 188.79 L358.10 188.82 L358.30 188.85 L358.50 188.88 L358.70 188.91 L358.90 188.94 L359.10 188.96 L359.30 188.99 L359.50 189.01 L359.70 189.03 L359.90 189.05 L360.10 189.07 L360.30 189.09 L360.50 189.11 L360.70 189.12 L360.90 189.14 L361.10 189.15 L361.30 189.17 L361.50 189.18 L361.70 189.19 L361.90 189.21 L362.10 189.22 L362.30 189.23 L362.50 189.24 L362.70 189.24 L362.90 189.25 L363.10 189.26 L363.30 189.26 L363.50 189.26 L363.70 189.26 L363.90 189.26 L364.10 189.26 L364.30 189.25 L364.50 189.23 L364.70 189.20 L364.90 189.15 L365.10 189.07 L365.30 188.94 L365.50 188.74 L365.70 188.47 L365.90 188.11 L366.10 187.69 L366.30 187.27 L366.50 186.93 L366.70 186.80 L366.70 186.80 L366.90 186.94 L367.10 187.30 L367.30 187.74 L367.50 188.17 L367.70 188.54 L367.90 188.83 L368.10 189.04 L368.30 189.18 L368.50 189.28 L368.70 189.34 L368.90 189.39 L369.10 189.42 L369.30 189.44 L369.50 189.46 L369.70 189.48 L369.90 189.50 L370.10 189.51 L370.30 189.52 L370.50 189.53 L370.70 189.54 L370.90 189.55 L371.10 189.56 L371.30 189.57 L371.50 189.57 L371.70 189.58 L371.90 189.59 L372.10 189.59 L372.30 189.60 L372.50 189.60 L372.70 189.61 L372.90 189.61 L373.10 189.61 L373.30 189.62 L373.50 189.62 L373.70 189.62 L373.90 189.62 L374.10 189.63 L374.30 189.63 L374.50 189.63 L374.70 189.63 L374.90 189.63 L375.10 189.63 L375.30 189.63 L375.50 189.63 L375.70 189.63 L375.90 189.63 L376.10 189.63 L376.30 189.62 L376.50 189.62 L376.70 189.61 L376.90 189.61 L377.10 189.60 L377.30 189.59 L377.50 189.58 L377.70 189.57 L377.90 189.56 L378.10 189.54 L378.30 189.52 L378.50 189.50 L378.70 189.47 L378.90 189.44 L379.10 189.40 L379.30 189.36 L379.50 189.30 L379.70 189.23 L379.90 189.14 L380.10 189.02 L380.30 188.88 L380.50 188.68 L380.70 188.41 L380.90 187.98 L381.10 187.24 L381.30 185.77 L381.50 182.89 L381.70 177.88 L381.90 170.65 L382.10 162.91 L382.30 159.20 L382.30 159.20 L382.50 162.91 L382.70 170.64 L382.90 177.87 L383.10 182.88 L383.30 185.75 L383.50 187.22 L383.70 187.96 L383.90 188.38 L384.10 188.65 L384.30 188.84 L384.50 188.98 L384.70 189.09 L384.90 189.17 L385.10 189.23 L385.30 189.28 L385.50 189.32 L385.70 189.34 L385.90 189.36 L386.10 189.37 L386.30 189.37 L386.50 189.37 L386.70 189.35 L386.90 189.33 L387.10 189.30 L387.30 189.26 L387.50 189.20 L387.70 189.13 L387.90 189.02 L388.10 188.88 L388.30 188.68 L388.50 188.43 L388.70 188.10 L388.90 187.69 L389.10 187.17 L389.30 186.56 L389.50 185.83 L389.70 185.02 L389.90 184.14 L390.10 183.24 L390.30 182.38 L390.50 181.66 L390.70 181.17 L390.90 181.00 L390.90 181.00 L391.10 181.18 L391.30 181.68 L391.50 182.41 L391.70 183.28 L391.90 184.19 L392.10 185.07 L392.30 185.90 L392.50 186.63 L392.70 187.26 L392.90 187.78 L393.10 188.21 L393.30 188.55 L393.50 188.81 L393.70 189.01 L393.90 189.17 L394.10 189.29 L394.30 189.38 L394.50 189.46 L394.70 189.52 L394.90 189.56 L395.10 189.61 L395.30 189.64 L395.50 189.67 L395.70 189.70 L395.90 189.72 L396.10 189.74 L396.30 189.76 L396.50 189.78 L396.70 189.80 L396.90 189.81 L397.10 189.82 L397.30 189.84 L397.50 189.85 L397.70 189.86 L397.90 189.86 L398.10 189.87 L398.30 189.88 L398.50 189.89 L398.70 189.89 L398.90 189.90 L399.10 189.90 L399.30 189.91 L399.50 189.91 L399.70 189.91 L399.90 189.92 L400.10 189.92 L400.30 189.92 L400.50 189.92 L400.70 189.91 L400.90 189.91 L401.10 189.91 L401.30 189.91 L401.50 189.90 L401.70 189.90 L401.90 189.89 L402.10 189.89 L402.30 189.88 L402.50 189.88 L402.70 189.87 L402.90 189.86 L403.10 189.86 L403.30 189.85 L403.50 189.84 L403.70 189.83 L403.90 189.81 L404.10 189.80 L404.30 189.78 L404.50 189.76 L404.70 189.74 L404.90 189.71 L405.10 189.66 L405.30 189.59 L405.50 189.47 L405.70 189.27 L405.90 189.00 L406.10 188.66 L406.30 188.35 L406.50 188.20 L406.50 188.20 L406.70 188.31 L406.90 188.58 L407.10 188.88 L407.30 189.11 L407.50 189.25 L407.70 189.30 L407.90 189.28 L408.10 189.18 L408.30 188.99 L408.50 188.68 L408.70 188.26 L408.90 187.80 L409.10 187.46 L409.20 187.40 L409.30 187.44 L409.50 187.74 L409.70 188.16 L409.90 188.54 L410.10 188.81 L410.30 188.98 L410.50 189.06 L410.70 189.09 L410.90 189.09 L411.10 189.07 L411.30 189.04 L411.50 189.01 L411.70 188.96 L411.90 188.92 L412.10 188.86 L412.30 188.80 L412.50 188.73 L412.70 188.65 L412.90 188.57 L413.10 188.47 L413.30 188.36 L413.50 188.23 L413.70 188.08 L413.90 187.90 L414.10 187.68 L414.30 187.42 L414.50 187.09 L414.70 186.69 L414.90 186.20 L415.10 185.59 L415.30 184.84 L415.50 183.92 L415.70 182.80 L415.90 181.44 L416.10 179.82 L416.30 177.89 L416.50 175.63 L416.70 173.02 L416.90 170.03 L417.10 166.66 L417.30 162.92 L417.50 158.82 L417.70 154.41 L417.90 149.73 L418.10 144.88 L418.30 139.93 L418.50 135.02 L418.70 130.27 L418.90 125.84 L419.10 121.89 L419.30 118.59 L419.50 116.09 L419.70 114.53 L419.90 114.00 L419.90 114.00 L420.10 114.52 L420.30 116.07 L420.50 118.56 L420.70 121.85 L420.90 125.78 L421.10 130.20 L421.30 134.93 L421.50 139.83 L421.70 144.76 L421.90 149.60 L422.10 154.26 L422.30 158.66 L422.50 162.74 L422.70 166.46 L422.90 169.81 L423.10 172.77 L423.30 175.36 L423.50 177.59 L423.70 179.49 L423.90 181.08 L424.10 182.40 L424.30 183.48 L424.50 184.35 L424.70 185.05 L424.90 185.60 L425.10 186.02 L425.30 186.34 L425.50 186.57 L425.70 186.72 L425.90 186.81 L426.10 186.83 L426.30 186.78 L426.50 186.64 L426.70 186.38 L426.90 185.91 L427.10 185.10 L427.30 183.74 L427.50 181.55 L427.70 178.22 L427.90 173.56 L428.10 167.58 L428.30 160.67 L428.50 153.75 L428.70 148.37 L428.90 146.30 L428.90 146.30 L429.10 148.43 L429.30 153.88 L429.50 160.86 L429.70 167.83 L429.90 173.88 L430.10 178.60 L430.30 181.98 L430.50 184.21 L430.70 185.61 L430.90 186.42 L431.10 186.87 L431.30 187.07 L431.50 187.10 L431.70 187.01 L431.90 186.82 L432.10 186.57 L432.30 186.30 L432.50 186.08 L432.70 185.98 L432.80 186.00 L432.90 186.07 L433.10 186.33 L433.30 186.73 L433.50 187.18 L433.70 187.63 L433.90 188.04 L434.10 188.40 L434.30 188.69 L434.50 188.92 L434.70 189.09 L434.90 189.22 L435.10 189.32 L435.30 189.40 L435.50 189.46 L435.70 189.51 L435.90 189.55 L436.10 189.58 L436.30 189.62 L436.50 189.64 L436.70 189.67 L436.90 189.69 L437.10 189.71 L437.30 189.73 L437.50 189.75 L437.70 189.76 L437.90 189.78 L438.10 189.79 L438.30 189.80 L438.50 189.81 L438.70 189.82 L438.90 189.83 L439.10 189.84 L439.30 189.85 L439.50 189.85 L439.70 189.86 L439.90 189.86 L440.10 189.86 L440.30 189.87 L440.50 189.87 L440.70 189.87 L440.90 189.86 L441.10 189.86 L441.30 189.85 L441.50 189.85 L441.70 189.84 L441.90 189.82 L442.10 189.81 L442.30 189.78 L442.50 189.76 L442.70 189.72 L442.90 189.67 L443.10 189.62 L443.30 189.53 L443.50 189.41 L443.70 189.22 L443.90 188.89 L444.10 188.30 L444.30 187.30 L444.50 185.75 L444.70 183.67 L444.90 181.39 L445.10 179.74 L445.20 179.50 L445.30 179.74 L445.50 181.38 L445.70 183.64 L445.90 185.70 L446.10 187.23 L446.30 188.21 L446.50 188.77 L446.70 189.06 L446.90 189.18 L447.10 189.19 L447.30 189.07 L447.50 188.71 L447.70 187.97 L447.90 186.75 L448.10 185.17 L448.30 183.89 L448.40 183.70 L448.50 183.92 L448.70 185.25 L448.90 186.87 L449.10 188.15 L449.30 188.95 L449.50 189.38 L449.70 189.60 L449.90 189.73 L450.10 189.80 L450.30 189.86 L450.50 189.90 L450.70 189.93 L450.90 189.96 L451.10 189.98 L451.30 189.99 L451.50 190.01 L451.70 190.02 L451.90 190.03 L452.10 190.04 L452.30 190.05 L452.50 190.06 L452.70 190.06 L452.90 190.07 L453.10 190.07 L453.30 190.08 L453.50 190.08 L453.70 190.08 L453.90 190.08 L454.10 190.09 L454.30 190.09 L454.50 190.09 L454.70 190.09 L454.90 190.09 L455.10 190.09 L455.30 190.09 L455.50 190.09 L455.70 190.09 L455.90 190.08 L456.10 190.08 L456.30 190.08 L456.50 190.07 L456.70 190.07 L456.90 190.06 L457.10 190.06 L457.30 190.05 L457.50 190.04 L457.70 190.03 L457.90 190.01 L458.10 189.99 L458.30 189.97 L458.50 189.95 L458.70 189.91 L458.90 189.87 L459.10 189.80 L459.30 189.71 L459.50 189.55 L459.70 189.29 L459.90 188.89 L460.10 188.28 L460.30 187.47 L460.50 186.50 L460.70 185.54 L460.90 184.89 L461.00 184.80 L461.10 184.89 L461.30 185.52 L461.50 186.48 L461.70 187.44 L461.90 188.25 L462.10 188.84 L462.30 189.24 L462.50 189.49 L462.70 189.63 L462.90 189.72 L463.10 189.77 L463.30 189.79 L463.50 189.81 L463.70 189.81 L463.90 189.80 L464.10 189.78 L464.30 189.74 L464.50 189.69 L464.70 189.62 L464.90 189.53 L465.10 189.42 L465.30 189.28 L465.50 189.12 L465.70 188.93 L465.90 188.71 L466.10 188.48 L466.30 188.23 L466.50 187.99 L466.70 187.75 L466.90 187.54 L467.10 187.39 L467.30 187.31 L467.40 187.30 L467.50 187.31 L467.70 187.40 L467.90 187.55 L468.10 187.76 L468.30 188.00 L468.50 188.26 L468.70 188.51 L468.90 188.74 L469.10 188.96 L469.30 189.16 L469.50 189.32 L469.70 189.47 L469.90 189.59 L470.10 189.69 L470.30 189.77 L470.50 189.83 L470.70 189.88 L470.90 189.92 L471.10 189.95 L471.30 189.97 L471.50 189.99 L471.70 190.00 L471.90 190.01 L472.10 190.02 L472.30 190.02 L472.50 190.03 L472.70 190.03 L472.90 190.03 L473.10 190.02 L473.30 190.01 L473.50 190.00 L473.70 189.98 L473.90 189.95 L474.10 189.90 L474.30 189.82 L474.50 189.68 L474.70 189.45 L474.90 189.12 L475.10 188.67 L475.30 188.14 L475.50 187.60 L475.70 187.25 L475.80 187.20 L475.90 187.25 L476.10 187.61 L476.30 188.15 L476.50 188.69 L476.70 189.14 L476.90 189.48 L477.10 189.70 L477.30 189.85 L477.50 189.93 L477.70 189.99 L477.90 190.02 L478.10 190.05 L478.30 190.07 L478.50 190.08 L478.70 190.09 L478.90 190.10 L479.10 190.11 L479.30 190.12 L479.50 190.13 L479.70 190.13 L479.90 190.13 L480.10 190.14 L480.30 190.14 L480.50 190.14 L480.70 190.15 L480.90 190.15 L481.10 190.15 L481.30 190.15 L481.50 190.15 L481.70 190.15 L481.90 190.15 L482.10 190.15 L482.30 190.15 L482.50 190.15 L482.70 190.15 L482.90 190.15 L483.10 190.15 L483.30 190.15 L483.50 190.15 L483.70 190.15 L483.90 190.15 L484.10 190.14 L484.30 190.14 L484.50 190.14 L484.70 190.14 L484.90 190.14 L485.10 190.13 L485.30 190.13 L485.50 190.13 L485.70 190.12 L485.90 190.12 L486.10 190.12 L486.30 190.11 L486.50 190.11 L486.70 190.10 L486.90 190.10 L487.10 190.09 L487.30 190.08 L487.50 190.08 L487.70 190.07 L487.90 190.06 L488.10 190.05 L488.30 190.04 L488.50 190.02 L488.70 190.01 L488.90 189.99 L489.10 189.97 L489.30 189.95 L489.50 189.92 L489.70 189.89 L489.90 189.85 L490.10 189.81 L490.30 189.75 L490.50 189.68 L490.70 189.59 L490.90 189.47 L491.10 189.29 L491.30 189.04 L491.50 188.69 L491.70 188.19 L491.90 187.52 L492.10 186.68 L492.30 185.72 L492.50 184.79 L492.70 184.19 L492.80 184.10 L492.90 184.11 L493.10 184.17 L493.30 184.28 L493.50 184.46 L493.70 184.67 L493.90 184.92 L494.10 185.20 L494.30 185.48 L494.50 185.78 L494.70 186.07 L494.90 186.36 L495.10 186.64 L495.30 186.90 L495.50 187.15 L495.70 187.39 L495.90 187.60 L496.10 187.80 L496.30 187.99 L496.50 188.15 L496.70 188.30 L496.90 188.43 L497.10 188.55 L497.30 188.66 L497.50 188.75 L497.70 188.83 L497.90 188.90 L498.10 188.96 L498.30 189.01 L498.50 189.05 L498.70 189.08 L498.90 189.11 L499.10 189.12 L499.30 189.13 L499.50 189.13 L499.70 189.13 L499.90 189.12 L500.10 189.10 L500.30 189.07 L500.50 189.03 L500.70 188.98 L500.90 188.92 L501.10 188.84 L501.30 188.75 L501.50 188.64 L501.70 188.52 L501.90 188.37 L502.10 188.20 L502.30 188.01 L502.50 187.79 L502.70 187.54 L502.90 187.26 L503.10 186.95 L503.30 186.62 L503.50 186.25 L503.70 185.86 L503.90 185.44 L504.10 184.99 L504.30 184.53 L504.50 184.06 L504.70 183.58 L504.90 183.10 L505.10 182.64 L505.30 182.20 L505.50 181.80 L505.70 181.46 L505.90 181.19 L506.10 181.00 L506.30 180.91 L506.40 180.90 L506.50 180.91 L506.70 181.02 L506.90 181.21 L507.10 181.49 L507.30 181.84 L507.50 182.24 L507.70 182.69 L507.90 183.16 L508.10 183.65 L508.30 184.14 L508.50 184.62 L508.70 185.09 L508.90 185.54 L509.10 185.97 L509.30 186.38 L509.50 186.75 L509.70 187.10 L509.90 187.42 L510.10 187.71 L510.30 187.97 L510.50 188.20 L510.70 188.41 L510.90 188.59 L511.10 188.75 L511.30 188.89 L511.50 189.02 L511.70 189.13 L511.90 189.22 L512.10 189.30 L512.30 189.37 L512.50 189.43 L512.70 189.49 L512.90 189.54 L513.10 189.58 L513.30 189.61 L513.50 189.65 L513.70 189.68 L513.90 189.70 L514.10 189.73 L514.30 189.75 L514.50 189.77 L514.70 189.79 L514.90 189.80 L515.10 189.82 L515.30 189.83 L515.50 189.84 L515.70 189.86 L515.90 189.87 L516.10 189.88 L516.30 189.89 L516.50 189.89 L516.70 189.90 L516.90 189.91 L517.10 189.92 L517.30 189.92 L517.50 189.93 L517.70 189.93 L517.90 189.94 L518.10 189.94 L518.30 189.94 L518.50 189.94 L518.70 189.95 L518.90 189.95 L519.10 189.95 L519.30 189.95 L519.50 189.95 L519.70 189.94 L519.90 189.94 L520.10 189.94 L520.30 189.93 L520.50 189.93 L520.70 189.92 L520.90 189.91 L521.10 189.91 L521.30 189.89 L521.50 189.88 L521.70 189.87 L521.90 189.85 L522.10 189.84 L522.30 189.81 L522.50 189.79 L522.70 189.76 L522.90 189.73 L523.10 189.70 L523.30 189.65 L523.50 189.61 L523.70 189.55 L523.90 189.48 L524.10 189.39 L524.30 189.28 L524.50 189.14 L524.70 188.95 L524.90 188.69 L525.10 188.36 L525.30 187.91 L525.50 187.32 L525.70 186.57 L525.90 185.64 L526.10 184.54 L526.30 183.29 L526.50 181.95 L526.70 180.66 L526.90 179.59 L527.10 178.98 L527.20 178.90 L527.30 178.98 L527.50 179.60 L527.70 180.67 L527.90 181.96 L528.10 183.30 L528.30 184.56 L528.50 185.66 L528.70 186.59 L528.90 187.34 L529.10 187.94 L529.30 188.39 L529.50 188.73 L529.70 188.99 L529.90 189.18 L530.10 189.33 L530.30 189.44 L530.50 189.53 L530.70 189.60 L530.90 189.67 L531.10 189.72 L531.30 189.77 L531.50 189.81 L531.70 189.84 L531.90 189.87 L532.10 189.90 L532.30 189.92 L532.50 189.95 L532.70 189.97 L532.90 189.98 L533.10 190.00 L533.30 190.02 L533.50 190.03 L533.70 190.04 L533.90 190.05 L534.10 190.07 L534.30 190.07 L534.50 190.08 L534.70 190.09 L534.90 190.10 L535.10 190.11 L535.30 190.11 L535.50 190.12 L535.70 190.13 L535.90 190.13 L536.10 190.14 L536.30 190.14 L536.50 190.15 L536.70 190.15 L536.90 190.16 L537.10 190.16 L537.30 190.16 L537.50 190.17 L537.70 190.17 L537.90 190.17 L538.10 190.18 L538.30 190.18 L538.50 190.18 L538.70 190.19 L538.90 190.19 L539.10 190.19 L539.30 190.19 L539.50 190.20 L539.70 190.20 L539.90 190.20 L540.10 190.20 L540.30 190.20 L540.50 190.20 L540.70 190.21" fill="none" stroke="#000" stroke-width="0.80" stroke-linejoin="round"/>
<path d="M332.25 32.15h2.70v2.70h-2.70zM346.15 62.15h2.70v2.70h-2.70zM390.05 174.55h2.70v2.70h-2.70zM418.75 108.05h2.70v2.70h-2.70zM428.25 137.35h2.70v2.70h-2.70zM466.45 179.25h2.70v2.70h-2.70zM495.15 177.35h2.70v2.70h-2.70zM506.05 174.65h2.70v2.70h-2.70z" fill="#ff7f00" stroke="#b8600c" stroke-width="0.5"/>
<path d="M343.25 88.95h2.70v2.70h-2.70zM348.95 85.25h2.70v2.70h-2.70zM335.95 147.65h2.70v2.70h-2.70zM381.45 154.45h2.70v2.70h-2.70zM408.25 182.45h2.70v2.70h-2.70zM428.65 142.05h2.70v2.70h-2.70zM438.35 184.45h2.70v2.70h-2.70zM443.85 173.55h2.70v2.70h-2.70zM447.45 179.05h2.70v2.70h-2.70zM460.15 179.25h2.70v2.70h-2.70zM474.45 182.45h2.70v2.70h-2.70zM491.45 178.25h2.70v2.70h-2.70zM525.95 173.05h2.70v2.70h-2.70z" fill="#12e212" stroke="#10c010" stroke-width="0.5"/>
<path d="M346.95 104.05h2.70v2.70h-2.70zM392.85 181.25h2.70v2.70h-2.70zM431.25 174.85h2.70v2.70h-2.70zM469.15 183.95h2.70v2.70h-2.70zM509.05 179.85h2.70v2.70h-2.70z" fill="#1414f0" stroke="#1010c8" stroke-width="0.5"/>
<path d="M325.85 176.05h2.70v2.70h-2.70zM333.95 136.75h2.70v2.70h-2.70zM337.55 141.85h2.70v2.70h-2.70zM365.35 182.55h2.70v2.70h-2.70zM387.15 179.85h2.70v2.70h-2.70zM405.15 183.85h2.70v2.70h-2.70zM431.65 181.05h2.70v2.70h-2.70z" fill="#10e8e8" stroke="#30c0c8" stroke-width="0.5"/>
<g fill="#111" stroke="#111" stroke-width="0.25">
<rect x="504.90" y="34.00" width="2.40" height="2.40" fill="#ff7f00" stroke="#b8600c" stroke-width="0.4"/>
<text transform="translate(511.30 38.10) scale(1.000 1.050)" font-size="9.10">ZrN</text>
<rect x="504.90" y="49.40" width="2.40" height="2.40" fill="#12e212" stroke="#10c010" stroke-width="0.4"/>
<text transform="translate(511.30 53.00) scale(1.300 1.050)" font-size="9.10">α</text>
<text transform="translate(517.70 53.00) scale(1.000 1.050)" font-size="9.10">Ti</text>
<rect x="504.90" y="64.30" width="2.40" height="2.40" fill="#1414f0" stroke="#1010c8" stroke-width="0.4"/>
<text transform="translate(511.50 68.50) scale(1.000 1.050)" font-size="9.10">TiV</text>
<rect x="504.90" y="80.20" width="2.40" height="2.40" fill="#10e8e8" stroke="#30c0c8" stroke-width="0.4"/>
<text transform="translate(513.00 85.50) scale(1.300 1.050)" font-size="9.10">α</text>
<text transform="translate(519.40 85.50) scale(1.000 1.050)" font-size="9.10">Zr</text>
</g>
<text x="418.10" y="240.00" font-family="'Liberation Serif', 'DejaVu Serif', serif" font-size="10.50" text-anchor="middle" fill="#111" stroke="#111" stroke-width="0.15">(<tspan font-weight="bold">b</tspan>)</text>
</g>
<g id="panel-c">
<path d="M24.40 249.50V442.20H264.00M24.40 442.20v3.18M35.47 442.20v1.70M46.53 442.20v3.18M57.59 442.20v1.70M68.66 442.20v3.18M79.72 442.20v1.70M90.79 442.20v3.18M101.85 442.20v1.70M112.92 442.20v3.18M123.99 442.20v1.70M135.05 442.20v3.18M146.12 442.20v1.70M157.18 442.20v3.18M168.25 442.20v1.70M179.31 442.20v3.18M190.38 442.20v1.70M201.44 442.20v3.18M212.51 442.20v1.70M223.57 442.20v3.18M234.64 442.20v1.70M245.70 442.20v3.18M256.76 442.20v1.70M24.40 249.50h-3.39M24.40 296.20h-1.80M24.40 343.30h-3.39M24.40 389.50h-1.80M24.40 436.10h-3.39" fill="none" stroke="#404040" stroke-width="1.00"/>
<g fill="#111" stroke="#111" stroke-width="0.25">
<text transform="translate(24.40 455.30) scale(1.000 1.050)" font-size="8.00" text-anchor="middle">30</text>
<text transform="translate(46.53 455.30) scale(1.000 1.050)" font-size="8.00" text-anchor="middle">40</text>
<text transform="translate(68.66 455.30) scale(1.000 1.050)" font-size="8.00" text-anchor="middle">50</text>
<text transform="translate(90.79 455.30) scale(1.000 1.050)" font-size="8.00" text-anchor="middle">60</text>
<text transform="translate(112.92 455.30) scale(1.000 1.050)" font-size="8.00" text-anchor="middle">70</text>
<text transform="translate(135.05 455.30) scale(1.000 1.050)" font-size="8.00" text-anchor="middle">80</text>
<text transform="translate(157.18 455.30) scale(1.000 1.050)" font-size="8.00" text-anchor="middle">90</text>
<text transform="translate(179.31 455.30) scale(1.000 1.050)" font-size="8.00" text-anchor="middle">100</text>
<text transform="translate(201.44 455.30) scale(1.000 1.050)" font-size="8.00" text-anchor="middle">110</text>
<text transform="translate(223.57 455.30) scale(1.000 1.050)" font-size="8.00" text-anchor="middle">120</text>
<text transform="translate(245.70 455.30) scale(1.000 1.050)" font-size="8.00" text-anchor="middle">130</text>
<text transform="translate(143.50 471.10) scale(1.000 1.050)" font-size="9.60" text-anchor="middle">2Θ / angel</text>
<text transform="translate(14.20 346.50) rotate(-90) scale(1.000 1.050)" font-size="9.50" text-anchor="middle">Intensity / a.u.</text>
</g>
<path clip-path="url(#clipc)" d="M24.70 435.34 L24.90 435.34 L25.10 435.34 L25.30 435.34 L25.50 435.34 L25.70 435.34 L25.90 435.34 L26.10 435.34 L26.30 435.34 L26.50 435.34 L26.70 435.33 L26.90 435.33 L27.10 435.33 L27.30 435.33 L27.50 435.33 L27.70 435.33 L27.90 435.33 L28.10 435.33 L28.30 435.33 L28.50 435.33 L28.70 435.33 L28.90 435.33 L29.10 435.32 L29.30 435.32 L29.50 435.32 L29.70 435.32 L29.90 435.32 L30.10 435.32 L30.30 435.32 L30.50 435.32 L30.70 435.32 L30.90 435.32 L31.10 435.32 L31.30 435.31 L31.50 435.31 L31.70 435.31 L31.90 435.31 L32.10 435.31 L32.30 435.31 L32.50 435.31 L32.70 435.31 L32.90 435.31 L33.10 435.30 L33.30 435.30 L33.50 435.30 L33.70 435.30 L33.90 435.30 L34.10 435.30 L34.30 435.30 L34.50 435.29 L34.70 435.29 L34.90 435.29 L35.10 435.29 L35.30 435.29 L35.50 435.29 L35.70 435.29 L35.90 435.28 L36.10 435.28 L36.30 435.28 L36.50 435.28 L36.70 435.28 L36.90 435.28 L37.10 435.28 L37.30 435.27 L37.50 435.27 L37.70 435.27 L37.90 435.27 L38.10 435.27 L38.30 435.26 L38.50 435.26 L38.70 435.26 L38.90 435.26 L39.10 435.26 L39.30 435.25 L39.50 435.25 L39.70 435.25 L39.90 435.25 L40.10 435.24 L40.30 435.24 L40.50 435.24 L40.70 435.24 L40.90 435.23 L41.10 435.23 L41.30 435.23 L41.50 435.23 L41.70 435.22 L41.90 435.22 L42.10 435.22 L42.30 435.21 L42.50 435.21 L42.70 435.21 L42.90 435.20 L43.10 435.20 L43.30 435.19 L43.50 435.19 L43.70 435.19 L43.90 435.18 L44.10 435.18 L44.30 435.17 L44.50 435.17 L44.70 435.16 L44.90 435.15 L45.10 435.15 L45.30 435.14 L45.50 435.13 L45.70 435.12 L45.90 435.11 L46.10 435.10 L46.30 435.09 L46.50 435.08 L46.70 435.06 L46.90 435.04 L47.10 435.02 L47.30 434.99 L47.50 434.96 L47.70 434.90 L47.90 434.81 L48.10 434.60 L48.30 434.16 L48.50 433.29 L48.70 431.89 L48.90 430.20 L49.10 428.90 L49.20 428.70 L49.30 428.89 L49.50 430.16 L49.70 431.83 L49.90 433.19 L50.10 434.03 L50.30 434.45 L50.50 434.62 L50.70 434.68 L50.90 434.69 L51.10 434.68 L51.30 434.66 L51.50 434.63 L51.70 434.58 L51.90 434.52 L52.10 434.44 L52.30 434.31 L52.50 434.12 L52.70 433.79 L52.90 433.20 L53.10 432.20 L53.30 430.62 L53.50 428.38 L53.70 425.58 L53.90 422.62 L54.10 420.20 L54.30 419.20 L54.30 419.20 L54.50 420.05 L54.70 422.31 L54.90 425.11 L55.10 427.72 L55.30 429.74 L55.50 431.06 L55.70 431.73 L55.90 431.87 L56.10 431.46 L56.30 430.14 L56.50 426.87 L56.70 419.75 L56.90 406.92 L57.10 388.78 L57.30 370.50 L57.50 362.20 L57.50 362.20 L57.70 370.49 L57.90 388.76 L58.10 406.89 L58.30 419.72 L58.50 426.85 L58.70 430.17 L58.90 431.58 L59.10 432.21 L59.30 432.53 L59.50 432.67 L59.70 432.58 L59.90 432.06 L60.10 430.80 L60.30 428.71 L60.50 426.41 L60.70 425.20 L60.70 425.20 L60.90 425.95 L61.10 427.71 L61.30 428.89 L61.50 428.08 L61.70 423.55 L61.90 413.03 L62.10 395.85 L62.30 376.73 L62.50 367.50 L62.50 367.50 L62.70 376.67 L62.90 395.74 L63.10 412.92 L63.30 423.58 L63.50 428.61 L63.70 430.61 L63.90 431.40 L64.10 431.77 L64.30 431.97 L64.50 432.08 L64.70 432.14 L64.90 432.15 L65.10 432.06 L65.30 431.87 L65.50 431.64 L65.70 431.37 L65.90 431.05 L66.10 430.68 L66.30 430.27 L66.50 429.81 L66.70 429.29 L66.90 428.72 L67.10 428.07 L67.30 427.36 L67.50 426.57 L67.70 425.69 L67.90 424.72 L68.10 422.52 L68.30 418.35 L68.50 412.81 L68.70 405.43 L68.90 395.96 L69.10 383.62 L69.30 367.39 L69.50 346.07 L69.70 305.97 L69.90 244.62 L70.10 191.21 L70.30 122.83 L70.50 35.29 L70.70 122.84 L70.90 191.23 L71.10 244.65 L71.30 306.00 L71.50 346.11 L71.70 367.45 L71.90 383.68 L72.10 396.03 L72.30 405.52 L72.50 412.90 L72.70 418.46 L72.90 422.64 L73.10 424.86 L73.30 425.84 L73.50 426.74 L73.70 427.55 L73.90 428.28 L74.10 428.95 L74.30 429.55 L74.50 430.09 L74.70 430.59 L74.90 431.04 L75.10 431.44 L75.30 431.81 L75.50 432.14 L75.70 432.45 L75.90 432.72 L76.10 432.91 L76.30 433.03 L76.50 433.15 L76.70 433.26 L76.90 433.36 L77.10 433.46 L77.30 433.55 L77.50 433.64 L77.70 433.73 L77.90 433.81 L78.10 433.89 L78.30 433.96 L78.50 434.03 L78.70 434.10 L78.90 434.16 L79.10 434.22 L79.30 434.27 L79.50 434.33 L79.70 434.38 L79.90 434.43 L80.10 434.48 L80.30 434.52 L80.50 434.56 L80.70 434.58 L80.90 434.60 L81.10 434.63 L81.30 434.65 L81.50 434.67 L81.70 434.68 L81.90 434.70 L82.10 434.72 L82.30 434.74 L82.50 434.76 L82.70 434.77 L82.90 434.79 L83.10 434.80 L83.30 434.82 L83.50 434.83 L83.70 434.85 L83.90 434.86 L84.10 434.88 L84.30 434.89 L84.50 434.90 L84.70 434.91 L84.90 434.93 L85.10 434.94 L85.30 434.95 L85.50 434.96 L85.70 434.97 L85.90 434.98 L86.10 434.99 L86.30 435.00 L86.50 435.01 L86.70 435.02 L86.90 435.03 L87.10 435.03 L87.30 435.04 L87.50 435.05 L87.70 435.06 L87.90 435.06 L88.10 435.07 L88.30 435.08 L88.50 435.08 L88.70 435.09 L88.90 435.09 L89.10 435.10 L89.30 435.10 L89.50 435.11 L89.70 435.11 L89.90 435.11 L90.10 435.12 L90.30 435.12 L90.50 435.12 L90.70 435.12 L90.90 435.12 L91.10 435.11 L91.30 435.11 L91.50 435.11 L91.70 435.10 L91.90 435.09 L92.10 435.09 L92.30 435.08 L92.50 435.07 L92.70 435.06 L92.90 435.04 L93.10 435.02 L93.30 435.00 L93.50 434.98 L93.70 434.95 L93.90 434.91 L94.10 434.86 L94.30 434.80 L94.50 434.72 L94.70 434.62 L94.90 434.48 L95.10 434.28 L95.30 433.94 L95.50 433.30 L95.70 432.03 L95.90 429.66 L96.10 425.87 L96.30 421.05 L96.50 417.12 L96.60 416.50 L96.70 417.12 L96.90 421.05 L97.10 425.88 L97.30 429.67 L97.50 432.05 L97.70 433.32 L97.90 433.96 L98.10 434.30 L98.30 434.51 L98.50 434.65 L98.70 434.76 L98.90 434.84 L99.10 434.90 L99.30 434.95 L99.50 434.99 L99.70 435.03 L99.90 435.06 L100.10 435.08 L100.30 435.10 L100.50 435.12 L100.70 435.13 L100.90 435.15 L101.10 435.16 L101.30 435.17 L101.50 435.18 L101.70 435.19 L101.90 435.19 L102.10 435.20 L102.30 435.21 L102.50 435.21 L102.70 435.22 L102.90 435.22 L103.10 435.22 L103.30 435.23 L103.50 435.23 L103.70 435.23 L103.90 435.23 L104.10 435.23 L104.30 435.23 L104.50 435.23 L104.70 435.23 L104.90 435.23 L105.10 435.22 L105.30 435.21 L105.50 435.19 L105.70 435.17 L105.90 435.13 L106.10 435.09 L106.30 435.04 L106.50 434.98 L106.70 434.91 L106.90 434.86 L107.10 434.81 L107.30 434.80 L107.30 434.80 L107.50 434.82 L107.70 434.86 L107.90 434.92 L108.10 434.99 L108.30 435.05 L108.50 435.11 L108.70 435.15 L108.90 435.19 L109.10 435.22 L109.30 435.24 L109.50 435.26 L109.70 435.27 L109.90 435.27 L110.10 435.28 L110.30 435.28 L110.50 435.29 L110.70 435.29 L110.90 435.30 L111.10 435.30 L111.30 435.30 L111.50 435.30 L111.70 435.30 L111.90 435.31 L112.10 435.31 L112.30 435.31 L112.50 435.31 L112.70 435.31 L112.90 435.31 L113.10 435.31 L113.30 435.31 L113.50 435.32 L113.70 435.32 L113.90 435.32 L114.10 435.32 L114.30 435.32 L114.50 435.32 L114.70 435.32 L114.90 435.32 L115.10 435.32 L115.30 435.32 L115.50 435.32 L115.70 435.32 L115.90 435.32 L116.10 435.32 L116.30 435.32 L116.50 435.32 L116.70 435.32 L116.90 435.32 L117.10 435.32 L117.30 435.32 L117.50 435.32 L117.70 435.32 L117.90 435.32 L118.10 435.32 L118.30 435.32 L118.50 435.32 L118.70 435.32 L118.90 435.31 L119.10 435.31 L119.30 435.31 L119.50 435.31 L119.70 435.31 L119.90 435.30 L120.10 435.30 L120.30 435.29 L120.50 435.29 L120.70 435.28 L120.90 435.28 L121.10 435.27 L121.30 435.26 L121.50 435.24 L121.70 435.22 L121.90 435.20 L122.10 435.16 L122.30 435.11 L122.50 435.03 L122.70 434.91 L122.90 434.75 L123.10 434.54 L123.30 434.28 L123.50 433.97 L123.70 433.66 L123.90 433.39 L124.10 433.22 L124.20 433.20 L124.30 433.22 L124.50 433.39 L124.70 433.66 L124.90 433.98 L125.10 434.28 L125.30 434.54 L125.50 434.75 L125.70 434.92 L125.90 435.03 L126.10 435.11 L126.30 435.17 L126.50 435.20 L126.70 435.23 L126.90 435.25 L127.10 435.26 L127.30 435.28 L127.50 435.29 L127.70 435.29 L127.90 435.30 L128.10 435.31 L128.30 435.31 L128.50 435.32 L128.70 435.32 L128.90 435.32 L129.10 435.33 L129.30 435.33 L129.50 435.33 L129.70 435.33 L129.90 435.34 L130.10 435.34 L130.30 435.34 L130.50 435.34 L130.70 435.34 L130.90 435.34 L131.10 435.34 L131.30 435.34 L131.50 435.34 L131.70 435.35 L131.90 435.35 L132.10 435.35 L132.30 435.35 L132.50 435.35 L132.70 435.35 L132.90 435.35 L133.10 435.35 L133.30 435.35 L133.50 435.35 L133.70 435.35 L133.90 435.35 L134.10 435.35 L134.30 435.35 L134.50 435.35 L134.70 435.35 L134.90 435.35 L135.10 435.35 L135.30 435.35 L135.50 435.35 L135.70 435.35 L135.90 435.34 L136.10 435.34 L136.30 435.34 L136.50 435.34 L136.70 435.34 L136.90 435.34 L137.10 435.34 L137.30 435.34 L137.50 435.34 L137.70 435.34 L137.90 435.34 L138.10 435.33 L138.30 435.33 L138.50 435.33 L138.70 435.33 L138.90 435.33 L139.10 435.32 L139.30 435.32 L139.50 435.32 L139.70 435.32 L139.90 435.31 L140.10 435.31 L140.30 435.30 L140.50 435.30 L140.70 435.29 L140.90 435.29 L141.10 435.28 L141.30 435.27 L141.50 435.26 L141.70 435.25 L141.90 435.24 L142.10 435.23 L142.30 435.21 L142.50 435.19 L142.70 435.16 L142.90 435.13 L143.10 435.09 L143.30 435.04 L143.50 434.98 L143.70 434.90 L143.90 434.78 L144.10 434.61 L144.30 434.33 L144.50 433.77 L144.70 432.57 L144.90 430.19 L145.10 426.35 L145.30 421.82 L145.50 419.50 L145.50 419.50 L145.70 421.82 L145.90 426.34 L146.10 430.19 L146.30 432.57 L146.50 433.77 L146.70 434.32 L146.90 434.61 L147.10 434.78 L147.30 434.89 L147.50 434.98 L147.70 435.04 L147.90 435.09 L148.10 435.13 L148.30 435.16 L148.50 435.18 L148.70 435.20 L148.90 435.22 L149.10 435.23 L149.30 435.25 L149.50 435.26 L149.70 435.26 L149.90 435.27 L150.10 435.28 L150.30 435.28 L150.50 435.29 L150.70 435.29 L150.90 435.29 L151.10 435.30 L151.30 435.30 L151.50 435.30 L151.70 435.30 L151.90 435.30 L152.10 435.30 L152.30 435.31 L152.50 435.31 L152.70 435.30 L152.90 435.30 L153.10 435.30 L153.30 435.30 L153.50 435.30 L153.70 435.30 L153.90 435.29 L154.10 435.29 L154.30 435.28 L154.50 435.28 L154.70 435.26 L154.90 435.25 L155.10 435.23 L155.30 435.19 L155.50 435.14 L155.70 435.06 L155.90 434.95 L156.10 434.81 L156.30 434.65 L156.50 434.49 L156.70 434.35 L156.90 434.30 L156.90 434.30 L157.10 434.35 L157.30 434.48 L157.50 434.64 L157.70 434.80 L157.90 434.93 L158.10 435.03 L158.30 435.11 L158.50 435.15 L158.70 435.18 L158.90 435.19 L159.10 435.20 L159.30 435.20 L159.50 435.20 L159.70 435.19 L159.90 435.17 L160.10 435.15 L160.30 435.13 L160.50 435.10 L160.70 435.05 L160.90 434.98 L161.10 434.87 L161.30 434.66 L161.50 434.25 L161.70 433.48 L161.90 432.25 L162.10 430.68 L162.30 429.40 L162.40 429.20 L162.50 429.39 L162.70 430.65 L162.90 432.19 L163.10 433.40 L163.30 434.14 L163.50 434.52 L163.70 434.69 L163.90 434.75 L164.10 434.75 L164.30 434.68 L164.50 434.53 L164.70 434.21 L164.90 433.65 L165.10 432.77 L165.30 431.58 L165.50 430.28 L165.70 429.34 L165.80 429.20 L165.90 429.34 L166.10 430.29 L166.30 431.61 L166.50 432.81 L166.70 433.70 L166.90 434.28 L167.10 434.62 L167.30 434.81 L167.50 434.91 L167.70 434.97 L167.90 435.01 L168.10 435.03 L168.30 435.03 L168.50 435.02 L168.70 434.99 L168.90 434.94 L169.10 434.86 L169.30 434.75 L169.50 434.62 L169.70 434.46 L169.90 434.30 L170.10 434.15 L170.30 434.04 L170.50 434.00 L170.50 434.00 L170.70 434.05 L170.90 434.16 L171.10 434.32 L171.30 434.49 L171.50 434.66 L171.70 434.80 L171.90 434.92 L172.10 435.02 L172.30 435.09 L172.50 435.14 L172.70 435.18 L172.90 435.20 L173.10 435.22 L173.30 435.23 L173.50 435.24 L173.70 435.25 L173.90 435.25 L174.10 435.25 L174.30 435.26 L174.50 435.26 L174.70 435.26 L174.90 435.26 L175.10 435.25 L175.30 435.25 L175.50 435.24 L175.70 435.24 L175.90 435.23 L176.10 435.22 L176.30 435.20 L176.50 435.18 L176.70 435.16 L176.90 435.13 L177.10 435.09 L177.30 435.04 L177.50 434.96 L177.70 434.82 L177.90 434.57 L178.10 434.14 L178.30 433.44 L178.50 432.42 L178.70 431.17 L178.90 430.01 L179.10 429.50 L179.10 429.50 L179.30 430.01 L179.50 431.17 L179.70 432.42 L179.90 433.44 L180.10 434.15 L180.30 434.58 L180.50 434.83 L180.70 434.97 L180.90 435.05 L181.10 435.10 L181.30 435.14 L181.50 435.18 L181.70 435.20 L181.90 435.22 L182.10 435.24 L182.30 435.25 L182.50 435.26 L182.70 435.27 L182.90 435.28 L183.10 435.28 L183.30 435.29 L183.50 435.29 L183.70 435.30 L183.90 435.30 L184.10 435.31 L184.30 435.31 L184.50 435.31 L184.70 435.31 L184.90 435.32 L185.10 435.32 L185.30 435.32 L185.50 435.32 L185.70 435.32 L185.90 435.32 L186.10 435.32 L186.30 435.32 L186.50 435.32 L186.70 435.32 L186.90 435.32 L187.10 435.33 L187.30 435.33 L187.50 435.33 L187.70 435.32 L187.90 435.32 L188.10 435.32 L188.30 435.32 L188.50 435.32 L188.70 435.32 L188.90 435.32 L189.10 435.32 L189.30 435.32 L189.50 435.32 L189.70 435.32 L189.90 435.31 L190.10 435.31 L190.30 435.31 L190.50 435.30 L190.70 435.30 L190.90 435.30 L191.10 435.29 L191.30 435.28 L191.50 435.28 L191.70 435.27 L191.90 435.25 L192.10 435.24 L192.30 435.21 L192.50 435.18 L192.70 435.13 L192.90 435.05 L193.10 434.91 L193.30 434.70 L193.50 434.40 L193.70 434.02 L193.90 433.60 L194.10 433.25 L194.30 433.10 L194.30 433.10 L194.50 433.25 L194.70 433.60 L194.90 434.02 L195.10 434.40 L195.30 434.70 L195.50 434.91 L195.70 435.04 L195.90 435.13 L196.10 435.18 L196.30 435.21 L196.50 435.23 L196.70 435.25 L196.90 435.26 L197.10 435.27 L197.30 435.27 L197.50 435.28 L197.70 435.29 L197.90 435.29 L198.10 435.29 L198.30 435.30 L198.50 435.30 L198.70 435.30 L198.90 435.30 L199.10 435.30 L199.30 435.30 L199.50 435.30 L199.70 435.30 L199.90 435.30 L200.10 435.31 L200.30 435.31 L200.50 435.31 L200.70 435.30 L200.90 435.30 L201.10 435.30 L201.30 435.30 L201.50 435.30 L201.70 435.30 L201.90 435.30 L202.10 435.30 L202.30 435.30 L202.50 435.30 L202.70 435.30 L202.90 435.30 L203.10 435.29 L203.30 435.29 L203.50 435.29 L203.70 435.29 L203.90 435.29 L204.10 435.29 L204.30 435.28 L204.50 435.28 L204.70 435.28 L204.90 435.28 L205.10 435.28 L205.30 435.27 L205.50 435.27 L205.70 435.27 L205.90 435.26 L206.10 435.26 L206.30 435.26 L206.50 435.25 L206.70 435.25 L206.90 435.25 L207.10 435.24 L207.30 435.24 L207.50 435.23 L207.70 435.23 L207.90 435.22 L208.10 435.22 L208.30 435.21 L208.50 435.20 L208.70 435.19 L208.90 435.18 L209.10 435.17 L209.30 435.16 L209.50 435.15 L209.70 435.14 L209.90 435.12 L210.10 435.10 L210.30 435.07 L210.50 435.04 L210.70 434.98 L210.90 434.90 L211.10 434.77 L211.30 434.57 L211.50 434.30 L211.70 433.95 L211.90 433.57 L212.10 433.24 L212.30 433.10 L212.30 433.10 L212.50 433.22 L212.70 433.52 L212.90 433.87 L213.10 434.19 L213.30 434.44 L213.50 434.60 L213.70 434.70 L213.90 434.75 L214.10 434.77 L214.30 434.77 L214.50 434.76 L214.70 434.74 L214.90 434.71 L215.10 434.68 L215.30 434.64 L215.50 434.59 L215.70 434.53 L215.90 434.47 L216.10 434.38 L216.30 434.28 L216.50 434.16 L216.70 434.01 L216.90 433.82 L217.10 433.59 L217.30 433.30 L217.50 432.94 L217.70 432.49 L217.90 431.95 L218.10 431.30 L218.30 430.54 L218.50 429.65 L218.70 428.65 L218.90 427.53 L219.10 426.32 L219.30 425.05 L219.50 423.76 L219.70 422.51 L219.90 421.39 L220.10 420.49 L220.30 419.90 L220.50 419.70 L220.50 419.70 L220.70 419.91 L220.90 420.49 L221.10 421.39 L221.30 422.51 L221.50 423.76 L221.70 425.05 L221.90 426.32 L222.10 427.53 L222.30 428.65 L222.50 429.66 L222.70 430.54 L222.90 431.31 L223.10 431.96 L223.30 432.50 L223.50 432.95 L223.70 433.31 L223.90 433.60 L224.10 433.84 L224.30 434.03 L224.50 434.18 L224.70 434.30 L224.90 434.41 L225.10 434.49 L225.30 434.56 L225.50 434.62 L225.70 434.68 L225.90 434.72 L226.10 434.77 L226.30 434.80 L226.50 434.84 L226.70 434.87 L226.90 434.89 L227.10 434.92 L227.30 434.94 L227.50 434.96 L227.70 434.97 L227.90 434.99 L228.10 434.99 L228.30 435.00 L228.50 435.00 L228.70 434.99 L228.90 434.97 L229.10 434.95 L229.30 434.92 L229.50 434.88 L229.70 434.84 L229.90 434.81 L230.10 434.80 L230.20 434.80 L230.30 434.81 L230.50 434.84 L230.70 434.88 L230.90 434.94 L231.10 434.99 L231.30 435.04 L231.50 435.08 L231.70 435.12 L231.90 435.14 L232.10 435.17 L232.30 435.18 L232.50 435.19 L232.70 435.21 L232.90 435.21 L233.10 435.22 L233.30 435.23 L233.50 435.23 L233.70 435.24 L233.90 435.24 L234.10 435.24 L234.30 435.25 L234.50 435.25 L234.70 435.25 L234.90 435.26 L235.10 435.26 L235.30 435.26 L235.50 435.26 L235.70 435.27 L235.90 435.27 L236.10 435.27 L236.30 435.27 L236.50 435.27 L236.70 435.28 L236.90 435.28 L237.10 435.28 L237.30 435.28 L237.50 435.28 L237.70 435.28 L237.90 435.28 L238.10 435.28 L238.30 435.28 L238.50 435.28 L238.70 435.28 L238.90 435.28 L239.10 435.28 L239.30 435.28 L239.50 435.28 L239.70 435.28 L239.90 435.28 L240.10 435.28 L240.30 435.28 L240.50 435.28 L240.70 435.28 L240.90 435.27 L241.10 435.27 L241.30 435.27 L241.50 435.27 L241.70 435.26 L241.90 435.26 L242.10 435.26 L242.30 435.25 L242.50 435.25 L242.70 435.24 L242.90 435.23 L243.10 435.23 L243.30 435.22 L243.50 435.21 L243.70 435.20 L243.90 435.19 L244.10 435.17 L244.30 435.15 L244.50 435.13 L244.70 435.11 L244.90 435.08 L245.10 435.05 L245.30 435.01 L245.50 434.96 L245.70 434.89 L245.90 434.78 L246.10 434.64 L246.30 434.42 L246.50 434.11 L246.70 433.66 L246.90 433.05 L247.10 432.27 L247.30 431.34 L247.50 430.32 L247.70 429.33 L247.90 428.58 L248.10 428.30 L248.10 428.30 L248.30 428.58 L248.50 429.33 L248.70 430.32 L248.90 431.34 L249.10 432.28 L249.30 433.06 L249.50 433.66 L249.70 434.11 L249.90 434.43 L250.10 434.65 L250.30 434.79 L250.50 434.90 L250.70 434.97 L250.90 435.02 L251.10 435.06 L251.30 435.10 L251.50 435.13 L251.70 435.15 L251.90 435.17 L252.10 435.19 L252.30 435.20 L252.50 435.22 L252.70 435.23 L252.90 435.24 L253.10 435.25 L253.30 435.26 L253.50 435.26 L253.70 435.27 L253.90 435.28 L254.10 435.28 L254.30 435.29 L254.50 435.29 L254.70 435.30 L254.90 435.30 L255.10 435.30 L255.30 435.31 L255.50 435.31 L255.70 435.31 L255.90 435.32 L256.10 435.32 L256.30 435.32 L256.50 435.32 L256.70 435.32 L256.90 435.33 L257.10 435.33 L257.30 435.33 L257.50 435.33 L257.70 435.33 L257.90 435.33 L258.10 435.34 L258.30 435.34 L258.50 435.34 L258.70 435.34 L258.90 435.34 L259.10 435.34 L259.30 435.34 L259.50 435.34 L259.70 435.34 L259.90 435.35 L260.10 435.35 L260.30 435.35 L260.50 435.35 L260.70 435.35 L260.90 435.35 L261.10 435.35 L261.30 435.35 L261.50 435.35 L261.70 435.35 L261.90 435.35 L262.10 435.35 L262.30 435.35 L262.50 435.35 L262.70 435.35 L262.90 435.35 L263.10 435.35 L263.30 435.36 L263.50 435.36 L263.70 435.36 L263.90 435.36" fill="none" stroke="#000" stroke-width="0.80" stroke-linejoin="round"/>
<path d="M69.05 249.35h2.90v2.90h-2.90zM52.55 412.55h2.90v2.90h-2.90zM121.45 425.75h2.90v2.90h-2.90zM155.45 427.35h2.90v2.90h-2.90zM169.05 427.35h2.90v2.90h-2.90zM218.65 413.35h2.90v2.90h-2.90z" fill="#ffff10" stroke="#c8c850" stroke-width="0.5"/>
<path d="M56.25 358.45h2.90v2.90h-2.90zM61.55 361.75h2.90v2.90h-2.90zM47.75 421.45h2.90v2.90h-2.90zM95.35 411.25h2.90v2.90h-2.90zM123.25 421.05h2.90v2.90h-2.90zM144.05 413.05h2.90v2.90h-2.90zM161.05 421.35h2.90v2.90h-2.90zM164.35 416.25h2.90v2.90h-2.90zM177.85 421.95h2.90v2.90h-2.90zM192.35 421.75h2.90v2.90h-2.90zM210.85 421.95h2.90v2.90h-2.90zM247.05 422.35h2.90v2.90h-2.90z" fill="#12e212" stroke="#10c010" stroke-width="0.5"/>
<path d="M58.95 416.65h2.90v2.90h-2.90zM105.95 429.25h2.90v2.90h-2.90zM146.95 427.75h2.90v2.90h-2.90zM182.15 430.85h2.90v2.90h-2.90zM228.75 429.05h2.90v2.90h-2.90z" fill="#1414f0" stroke="#1010c8" stroke-width="0.5"/>
<g fill="#111" stroke="#111" stroke-width="0.25">
<rect x="214.20" y="259.70" width="2.60" height="2.60" fill="#ffff10" stroke="#c8c850" stroke-width="0.4"/>
<text transform="translate(222.30 264.20) scale(1.000 1.050)" font-size="9.60">CrN</text>
<rect x="214.20" y="278.30" width="2.60" height="2.60" fill="#12e212" stroke="#10c010" stroke-width="0.4"/>
<text transform="translate(223.70 282.10) scale(1.300 1.050)" font-size="9.60">α</text>
<text transform="translate(230.50 282.10) scale(1.000 1.050)" font-size="9.60">Ti</text>
<rect x="214.30" y="294.90" width="2.60" height="2.60" fill="#1414f0" stroke="#1010c8" stroke-width="0.4"/>
<text transform="translate(222.70 300.30) scale(1.000 1.050)" font-size="9.60">β</text>
<text transform="translate(228.30 300.30) scale(1.000 1.050)" font-size="9.60">Ti</text>
</g>
<text x="135.20" y="489.10" font-family="'Liberation Serif', 'DejaVu Serif', serif" font-size="10.50" text-anchor="middle" fill="#111" stroke="#111" stroke-width="0.15">(<tspan font-weight="bold">c</tspan>)</text>
</g>
<g id="panel-d">
<path d="M306.70 248.60V443.40H548.00M306.70 443.40v3.18M317.85 443.40v1.70M329.00 443.40v3.18M340.15 443.40v1.70M351.30 443.40v3.18M362.45 443.40v1.70M373.60 443.40v3.18M384.75 443.40v1.70M395.90 443.40v3.18M407.05 443.40v1.70M418.20 443.40v3.18M429.35 443.40v1.70M440.50 443.40v3.18M451.65 443.40v1.70M462.80 443.40v3.18M473.95 443.40v1.70M485.10 443.40v3.18M496.25 443.40v1.70M507.40 443.40v3.18M518.55 443.40v1.70M529.70 443.40v3.18M540.85 443.40v1.70M306.70 262.50h-3.39M306.70 284.90h-1.80M306.70 307.40h-3.39M306.70 329.80h-1.80M306.70 352.20h-3.39M306.70 374.60h-1.80M306.70 397.00h-3.39M306.70 419.40h-1.80M306.70 441.80h-3.39" fill="none" stroke="#404040" stroke-width="1.00"/>
<g fill="#111" stroke="#111" stroke-width="0.25">
<text transform="translate(306.70 456.40) scale(1.000 1.050)" font-size="8.00" text-anchor="middle">30</text>
<text transform="translate(329.00 456.40) scale(1.000 1.050)" font-size="8.00" text-anchor="middle">40</text>
<text transform="translate(351.30 456.40) scale(1.000 1.050)" font-size="8.00" text-anchor="middle">50</text>
<text transform="translate(373.60 456.40) scale(1.000 1.050)" font-size="8.00" text-anchor="middle">60</text>
<text transform="translate(395.90 456.40) scale(1.000 1.050)" font-size="8.00" text-anchor="middle">70</text>
<text transform="translate(418.20 456.40) scale(1.000 1.050)" font-size="8.00" text-anchor="middle">80</text>
<text transform="translate(440.50 456.40) scale(1.000 1.050)" font-size="8.00" text-anchor="middle">90</text>
<text transform="translate(462.80 456.40) scale(1.000 1.050)" font-size="8.00" text-anchor="middle">100</text>
<text transform="translate(485.10 456.40) scale(1.000 1.050)" font-size="8.00" text-anchor="middle">110</text>
<text transform="translate(507.40 456.40) scale(1.000 1.050)" font-size="8.00" text-anchor="middle">120</text>
<text transform="translate(529.70 456.40) scale(1.000 1.050)" font-size="8.00" text-anchor="middle">130</text>
<text transform="translate(422.70 470.60) scale(1.000 1.050)" font-size="9.60" text-anchor="middle">2Θ / angel</text>
<text transform="translate(296.40 346.80) rotate(-90) scale(1.000 1.050)" font-size="9.50" text-anchor="middle">Intensity / a.u.</text>
</g>
<path clip-path="url(#clipd)" d="M307.00 438.34 L307.20 438.34 L307.40 438.34 L307.60 438.34 L307.80 438.33 L308.00 438.33 L308.20 438.33 L308.40 438.33 L308.60 438.33 L308.80 438.33 L309.00 438.33 L309.20 438.32 L309.40 438.32 L309.60 438.32 L309.80 438.32 L310.00 438.31 L310.20 438.31 L310.40 438.31 L310.60 438.31 L310.80 438.30 L311.00 438.30 L311.20 438.30 L311.40 438.29 L311.60 438.29 L311.80 438.29 L312.00 438.28 L312.20 438.28 L312.40 438.27 L312.60 438.27 L312.80 438.26 L313.00 438.26 L313.20 438.25 L313.40 438.24 L313.60 438.24 L313.80 438.23 L314.00 438.22 L314.20 438.21 L314.40 438.20 L314.60 438.20 L314.80 438.19 L315.00 438.18 L315.20 438.16 L315.40 438.15 L315.60 438.14 L315.80 438.12 L316.00 438.11 L316.20 438.09 L316.40 438.07 L316.60 438.06 L316.80 438.03 L317.00 438.01 L317.20 437.99 L317.40 437.96 L317.60 437.93 L317.80 437.89 L318.00 437.86 L318.20 437.82 L318.40 437.77 L318.60 437.72 L318.80 437.66 L319.00 437.59 L319.20 437.51 L319.40 437.42 L319.60 437.31 L319.80 437.18 L320.00 437.01 L320.20 436.80 L320.40 436.51 L320.60 436.13 L320.80 435.60 L321.00 434.88 L321.20 433.92 L321.40 432.69 L321.60 431.16 L321.80 429.34 L322.00 427.34 L322.20 425.31 L322.40 423.58 L322.60 422.55 L322.70 422.40 L322.80 422.52 L323.00 423.51 L323.20 425.20 L323.40 427.18 L323.60 429.14 L323.80 430.91 L324.00 432.39 L324.20 433.58 L324.40 434.49 L324.60 435.15 L324.80 435.63 L325.00 435.96 L325.20 436.18 L325.40 436.34 L325.60 436.43 L325.80 436.50 L326.00 436.53 L326.20 436.54 L326.40 436.53 L326.60 436.51 L326.80 436.47 L327.00 436.41 L327.20 436.34 L327.40 436.25 L327.60 436.15 L327.80 436.03 L328.00 435.88 L328.20 435.72 L328.40 435.53 L328.60 435.31 L328.80 435.06 L329.00 434.78 L329.20 434.45 L329.40 434.06 L329.60 433.61 L329.80 433.06 L330.00 432.40 L330.20 431.57 L330.40 430.47 L330.60 428.95 L330.80 426.77 L331.00 423.60 L331.20 418.96 L331.40 412.29 L331.60 402.99 L331.80 390.54 L332.00 374.71 L332.20 355.71 L332.40 334.38 L332.60 312.44 L332.80 292.55 L333.00 278.27 L333.20 273.00 L333.20 273.00 L333.40 278.25 L333.60 292.52 L333.80 312.38 L334.00 334.31 L334.20 355.61 L334.40 374.60 L334.60 390.40 L334.80 402.82 L335.00 412.10 L335.20 418.73 L335.40 423.34 L335.60 426.47 L335.80 428.60 L336.00 430.07 L336.20 431.11 L336.40 431.88 L336.60 432.45 L336.80 432.89 L337.00 433.23 L337.20 433.46 L337.40 433.61 L337.60 433.66 L337.80 433.60 L338.00 433.40 L338.20 432.99 L338.40 432.12 L338.60 430.09 L338.80 425.24 L339.00 414.70 L339.20 395.71 L339.40 368.84 L339.60 341.76 L339.80 329.50 L339.80 329.50 L340.00 341.88 L340.20 369.07 L340.40 396.05 L340.60 415.17 L340.80 425.82 L341.00 430.79 L341.20 432.94 L341.40 433.93 L341.60 434.46 L341.80 434.78 L342.00 434.94 L342.20 434.96 L342.40 434.78 L342.60 434.15 L342.80 432.34 L343.00 428.28 L343.20 421.84 L343.40 415.74 L343.50 414.50 L343.60 415.04 L343.80 419.44 L344.00 422.88 L344.20 420.44 L344.40 408.58 L344.60 384.79 L344.80 350.56 L345.00 315.96 L345.20 300.30 L345.20 300.30 L345.40 316.18 L345.60 351.03 L345.80 385.61 L346.00 410.12 L346.20 423.80 L346.40 430.23 L346.60 433.06 L346.80 434.43 L347.00 435.24 L347.20 435.80 L347.40 436.23 L347.60 436.56 L347.80 436.83 L348.00 437.05 L348.20 437.22 L348.40 437.37 L348.60 437.50 L348.80 437.61 L349.00 437.70 L349.20 437.78 L349.40 437.85 L349.60 437.92 L349.80 437.97 L350.00 438.02 L350.20 438.07 L350.40 438.11 L350.60 438.14 L350.80 438.18 L351.00 438.21 L351.20 438.24 L351.40 438.26 L351.60 438.29 L351.80 438.31 L352.00 438.33 L352.20 438.35 L352.40 438.37 L352.60 438.38 L352.80 438.40 L353.00 438.41 L353.20 438.43 L353.40 438.44 L353.60 438.45 L353.80 438.46 L354.00 438.48 L354.20 438.49 L354.40 438.50 L354.60 438.50 L354.80 438.51 L355.00 438.52 L355.20 438.53 L355.40 438.54 L355.60 438.54 L355.80 438.55 L356.00 438.55 L356.20 438.56 L356.40 438.57 L356.60 438.57 L356.80 438.57 L357.00 438.58 L357.20 438.58 L357.40 438.58 L357.60 438.59 L357.80 438.59 L358.00 438.59 L358.20 438.59 L358.40 438.60 L358.60 438.60 L358.80 438.60 L359.00 438.60 L359.20 438.60 L359.40 438.60 L359.60 438.59 L359.80 438.59 L360.00 438.59 L360.20 438.59 L360.40 438.58 L360.60 438.58 L360.80 438.57 L361.00 438.56 L361.20 438.56 L361.40 438.55 L361.60 438.54 L361.80 438.53 L362.00 438.51 L362.20 438.50 L362.40 438.48 L362.60 438.46 L362.80 438.44 L363.00 438.42 L363.20 438.39 L363.40 438.36 L363.60 438.32 L363.80 438.28 L364.00 438.23 L364.20 438.17 L364.40 438.09 L364.60 438.00 L364.80 437.89 L365.00 437.74 L365.20 437.54 L365.40 437.29 L365.60 436.96 L365.80 436.54 L366.00 435.99 L366.20 435.32 L366.40 434.51 L366.60 433.56 L366.80 432.50 L367.00 431.36 L367.20 430.23 L367.40 429.24 L367.60 428.55 L367.80 428.30 L367.80 428.30 L368.00 428.55 L368.20 429.25 L368.40 430.24 L368.60 431.37 L368.80 432.51 L369.00 433.58 L369.20 434.53 L369.40 435.34 L369.60 436.02 L369.80 436.56 L370.00 436.99 L370.20 437.32 L370.40 437.58 L370.60 437.77 L370.80 437.92 L371.00 438.04 L371.20 438.13 L371.40 438.21 L371.60 438.27 L371.80 438.32 L372.00 438.37 L372.20 438.41 L372.40 438.44 L372.60 438.47 L372.80 438.49 L373.00 438.51 L373.20 438.53 L373.40 438.55 L373.60 438.56 L373.80 438.57 L374.00 438.58 L374.20 438.59 L374.40 438.59 L374.60 438.60 L374.80 438.60 L375.00 438.59 L375.20 438.59 L375.40 438.58 L375.60 438.57 L375.80 438.56 L376.00 438.54 L376.20 438.52 L376.40 438.49 L376.60 438.46 L376.80 438.42 L377.00 438.37 L377.20 438.30 L377.40 438.22 L377.60 438.12 L377.80 437.99 L378.00 437.81 L378.20 437.57 L378.40 437.21 L378.60 436.63 L378.80 435.53 L379.00 433.33 L379.20 429.22 L379.40 422.64 L379.60 414.28 L379.80 407.47 L379.90 406.40 L380.00 407.47 L380.20 414.29 L380.40 422.65 L380.60 429.23 L380.80 433.35 L381.00 435.55 L381.20 436.66 L381.40 437.25 L381.60 437.61 L381.80 437.85 L382.00 438.04 L382.20 438.18 L382.40 438.28 L382.60 438.37 L382.80 438.44 L383.00 438.50 L383.20 438.55 L383.40 438.59 L383.60 438.62 L383.80 438.65 L384.00 438.67 L384.20 438.69 L384.40 438.71 L384.60 438.73 L384.80 438.74 L385.00 438.75 L385.20 438.76 L385.40 438.77 L385.60 438.78 L385.80 438.79 L386.00 438.79 L386.20 438.80 L386.40 438.80 L386.60 438.80 L386.80 438.80 L387.00 438.80 L387.20 438.80 L387.40 438.80 L387.60 438.80 L387.80 438.80 L388.00 438.79 L388.20 438.79 L388.40 438.78 L388.60 438.77 L388.80 438.76 L389.00 438.74 L389.20 438.71 L389.40 438.67 L389.60 438.61 L389.80 438.51 L390.00 438.37 L390.20 438.18 L390.40 437.93 L390.60 437.63 L390.80 437.33 L391.00 437.10 L391.20 437.00 L391.20 437.00 L391.40 437.09 L391.60 437.32 L391.80 437.61 L392.00 437.90 L392.20 438.14 L392.40 438.33 L392.60 438.46 L392.80 438.55 L393.00 438.61 L393.20 438.64 L393.40 438.66 L393.60 438.67 L393.80 438.68 L394.00 438.68 L394.20 438.68 L394.40 438.68 L394.60 438.68 L394.80 438.67 L395.00 438.66 L395.20 438.66 L395.40 438.65 L395.60 438.64 L395.80 438.63 L396.00 438.62 L396.20 438.61 L396.40 438.59 L396.60 438.58 L396.80 438.57 L397.00 438.55 L397.20 438.53 L397.40 438.52 L397.60 438.50 L397.80 438.48 L398.00 438.46 L398.20 438.43 L398.40 438.41 L398.60 438.38 L398.80 438.36 L399.00 438.33 L399.20 438.30 L399.40 438.27 L399.60 438.23 L399.80 438.20 L400.00 438.16 L400.20 438.12 L400.40 438.08 L400.60 438.03 L400.80 437.98 L401.00 437.93 L401.20 437.87 L401.40 437.81 L401.60 437.75 L401.80 437.67 L402.00 437.60 L402.20 437.51 L402.40 437.41 L402.60 437.30 L402.80 437.17 L403.00 437.02 L403.20 436.84 L403.40 436.62 L403.60 436.35 L403.80 436.02 L404.00 435.60 L404.20 435.08 L404.40 434.43 L404.60 433.61 L404.80 432.58 L405.00 431.30 L405.20 429.71 L405.40 427.76 L405.60 425.39 L405.80 422.53 L406.00 419.13 L406.20 415.11 L406.40 410.44 L406.60 405.07 L406.80 398.98 L407.00 392.16 L407.20 384.64 L407.40 376.47 L407.60 367.74 L407.80 358.55 L408.00 349.07 L408.20 339.48 L408.40 329.98 L408.60 320.81 L408.80 312.25 L409.00 304.54 L409.20 297.96 L409.40 292.77 L409.60 289.17 L409.80 287.33 L409.90 287.10 L410.00 287.23 L410.20 288.22 L410.40 290.19 L410.60 293.07 L410.80 296.81 L411.00 301.32 L411.20 306.51 L411.40 312.26 L411.60 318.48 L411.80 325.05 L412.00 331.88 L412.20 338.86 L412.40 345.90 L412.60 352.92 L412.80 359.83 L413.00 366.56 L413.20 373.07 L413.40 379.29 L413.60 385.19 L413.80 390.74 L414.00 395.92 L414.20 400.71 L414.40 405.11 L414.60 409.12 L414.80 412.75 L415.00 416.01 L415.20 418.92 L415.40 421.51 L415.60 423.78 L415.80 425.78 L416.00 427.52 L416.20 429.03 L416.40 430.33 L416.60 431.44 L416.80 432.39 L417.00 433.21 L417.20 433.90 L417.40 434.48 L417.60 434.97 L417.80 435.39 L418.00 435.74 L418.20 436.04 L418.40 436.30 L418.60 436.51 L418.80 436.70 L419.00 436.86 L419.20 437.00 L419.40 437.12 L419.60 437.23 L419.80 437.32 L420.00 437.40 L420.20 437.48 L420.40 437.55 L420.60 437.61 L420.80 437.67 L421.00 437.72 L421.20 437.77 L421.40 437.82 L421.60 437.86 L421.80 437.90 L422.00 437.93 L422.20 437.97 L422.40 438.00 L422.60 438.02 L422.80 438.05 L423.00 438.07 L423.20 438.09 L423.40 438.11 L423.60 438.13 L423.80 438.14 L424.00 438.15 L424.20 438.15 L424.40 438.16 L424.60 438.15 L424.80 438.15 L425.00 438.14 L425.20 438.12 L425.40 438.10 L425.60 438.07 L425.80 438.03 L426.00 437.98 L426.20 437.92 L426.40 437.83 L426.60 437.73 L426.80 437.59 L427.00 437.41 L427.20 437.17 L427.40 436.81 L427.60 436.25 L427.80 435.26 L428.00 433.50 L428.20 430.51 L428.40 425.90 L428.60 419.71 L428.80 412.94 L429.00 408.03 L429.10 407.30 L429.20 408.01 L429.40 412.88 L429.60 419.62 L429.80 425.77 L430.00 430.34 L430.20 433.28 L430.40 434.98 L430.60 435.89 L430.80 436.37 L431.00 436.60 L431.20 436.68 L431.40 436.65 L431.60 436.52 L431.80 436.30 L432.00 436.03 L432.20 435.76 L432.40 435.55 L432.50 435.50 L432.60 435.48 L432.80 435.55 L433.00 435.70 L433.20 435.86 L433.40 435.98 L433.60 436.04 L433.80 436.06 L434.00 436.02 L434.20 435.95 L434.40 435.85 L434.60 435.75 L434.80 435.64 L435.00 435.54 L435.20 435.45 L435.40 435.38 L435.60 435.33 L435.80 435.30 L436.00 435.30 L436.00 435.30 L436.20 435.32 L436.40 435.37 L436.60 435.44 L436.80 435.53 L437.00 435.64 L437.20 435.76 L437.40 435.90 L437.60 436.04 L437.80 436.18 L438.00 436.33 L438.20 436.46 L438.40 436.59 L438.60 436.69 L438.80 436.76 L439.00 436.78 L439.20 436.73 L439.40 436.58 L439.60 436.33 L439.80 435.98 L440.00 435.58 L440.20 435.21 L440.40 435.00 L440.50 435.00 L440.60 435.08 L440.80 435.43 L441.00 435.95 L441.20 436.50 L441.40 436.99 L441.60 437.39 L441.80 437.68 L442.00 437.87 L442.20 437.99 L442.40 438.05 L442.60 438.07 L442.80 438.06 L443.00 438.01 L443.20 437.93 L443.40 437.82 L443.60 437.65 L443.80 437.41 L444.00 437.05 L444.20 436.52 L444.40 435.74 L444.60 434.63 L444.80 433.12 L445.00 431.16 L445.20 428.81 L445.40 426.25 L445.60 423.90 L445.80 422.41 L445.90 422.20 L446.00 422.38 L446.20 423.81 L446.40 426.09 L446.60 428.59 L446.80 430.86 L447.00 432.73 L447.20 434.14 L447.40 435.11 L447.60 435.71 L447.80 435.99 L448.00 436.00 L448.20 435.72 L448.40 435.13 L448.60 434.16 L448.80 432.75 L449.00 430.88 L449.20 428.59 L449.40 426.09 L449.60 423.80 L449.80 422.38 L449.90 422.20 L450.00 422.42 L450.20 423.94 L450.40 426.33 L450.60 428.94 L450.80 431.33 L451.00 433.33 L451.20 434.88 L451.40 436.02 L451.60 436.84 L451.80 437.40 L452.00 437.79 L452.20 438.07 L452.40 438.28 L452.60 438.44 L452.80 438.56 L453.00 438.67 L453.20 438.76 L453.40 438.83 L453.60 438.90 L453.80 438.96 L454.00 439.01 L454.20 439.05 L454.40 439.09 L454.60 439.12 L454.80 439.15 L455.00 439.18 L455.20 439.21 L455.40 439.23 L455.60 439.25 L455.80 439.27 L456.00 439.28 L456.20 439.30 L456.40 439.31 L456.60 439.32 L456.80 439.33 L457.00 439.34 L457.20 439.35 L457.40 439.36 L457.60 439.37 L457.80 439.37 L458.00 439.37 L458.20 439.38 L458.40 439.38 L458.60 439.38 L458.80 439.38 L459.00 439.37 L459.20 439.37 L459.40 439.36 L459.60 439.35 L459.80 439.34 L460.00 439.32 L460.20 439.30 L460.40 439.28 L460.60 439.24 L460.80 439.20 L461.00 439.14 L461.20 439.06 L461.40 438.94 L461.60 438.75 L461.80 438.43 L462.00 437.91 L462.20 437.11 L462.40 435.97 L462.60 434.52 L462.80 432.92 L463.00 431.56 L463.20 431.00 L463.20 431.00 L463.40 431.56 L463.60 432.92 L463.80 434.52 L464.00 435.98 L464.20 437.11 L464.40 437.92 L464.60 438.44 L464.80 438.76 L465.00 438.95 L465.20 439.07 L465.40 439.15 L465.60 439.21 L465.80 439.25 L466.00 439.28 L466.20 439.31 L466.40 439.33 L466.60 439.34 L466.80 439.35 L467.00 439.35 L467.20 439.35 L467.40 439.35 L467.60 439.34 L467.80 439.33 L468.00 439.31 L468.20 439.29 L468.40 439.25 L468.60 439.22 L468.80 439.17 L469.00 439.11 L469.20 439.03 L469.40 438.95 L469.60 438.84 L469.80 438.72 L470.00 438.58 L470.20 438.42 L470.40 438.23 L470.60 438.03 L470.80 437.80 L471.00 437.55 L471.20 437.29 L471.40 437.01 L471.60 436.73 L471.80 436.45 L472.00 436.18 L472.20 435.93 L472.40 435.71 L472.60 435.54 L472.80 435.44 L473.00 435.40 L473.00 435.40 L473.20 435.44 L473.40 435.54 L473.60 435.70 L473.80 435.92 L474.00 436.17 L474.20 436.44 L474.40 436.71 L474.60 436.99 L474.80 437.26 L475.00 437.52 L475.20 437.75 L475.40 437.97 L475.60 438.16 L475.80 438.32 L476.00 438.46 L476.20 438.57 L476.40 438.64 L476.60 438.67 L476.80 438.64 L477.00 438.53 L477.20 438.31 L477.40 437.95 L477.60 437.40 L477.80 436.69 L478.00 435.83 L478.20 434.96 L478.40 434.26 L478.60 434.00 L478.60 434.00 L478.80 434.30 L479.00 435.04 L479.20 435.97 L479.40 436.87 L479.60 437.64 L479.80 438.24 L480.00 438.68 L480.20 438.98 L480.40 439.18 L480.60 439.31 L480.80 439.40 L481.00 439.47 L481.20 439.51 L481.40 439.55 L481.60 439.59 L481.80 439.61 L482.00 439.64 L482.20 439.66 L482.40 439.68 L482.60 439.69 L482.80 439.71 L483.00 439.72 L483.20 439.73 L483.40 439.75 L483.60 439.76 L483.80 439.76 L484.00 439.77 L484.20 439.78 L484.40 439.79 L484.60 439.80 L484.80 439.80 L485.00 439.81 L485.20 439.81 L485.40 439.82 L485.60 439.82 L485.80 439.83 L486.00 439.83 L486.20 439.84 L486.40 439.84 L486.60 439.85 L486.80 439.85 L487.00 439.85 L487.20 439.86 L487.40 439.86 L487.60 439.86 L487.80 439.87 L488.00 439.87 L488.20 439.87 L488.40 439.87 L488.60 439.88 L488.80 439.88 L489.00 439.88 L489.20 439.88 L489.40 439.88 L489.60 439.88 L489.80 439.88 L490.00 439.89 L490.20 439.88 L490.40 439.88 L490.60 439.88 L490.80 439.88 L491.00 439.88 L491.20 439.88 L491.40 439.87 L491.60 439.87 L491.80 439.87 L492.00 439.86 L492.20 439.86 L492.40 439.85 L492.60 439.85 L492.80 439.84 L493.00 439.83 L493.20 439.82 L493.40 439.81 L493.60 439.80 L493.80 439.79 L494.00 439.77 L494.20 439.75 L494.40 439.72 L494.60 439.69 L494.80 439.65 L495.00 439.58 L495.20 439.49 L495.40 439.34 L495.60 439.12 L495.80 438.79 L496.00 438.34 L496.20 437.75 L496.40 437.07 L496.60 436.37 L496.80 435.82 L497.00 435.60 L497.00 435.60 L497.20 435.82 L497.40 436.37 L497.60 437.07 L497.80 437.75 L498.00 438.33 L498.20 438.78 L498.40 439.11 L498.60 439.33 L498.80 439.47 L499.00 439.56 L499.20 439.63 L499.40 439.67 L499.60 439.70 L499.80 439.72 L500.00 439.74 L500.20 439.75 L500.40 439.77 L500.60 439.78 L500.80 439.78 L501.00 439.79 L501.20 439.80 L501.40 439.80 L501.60 439.80 L501.80 439.81 L502.00 439.81 L502.20 439.81 L502.40 439.81 L502.60 439.81 L502.80 439.81 L503.00 439.81 L503.20 439.81 L503.40 439.81 L503.60 439.81 L503.80 439.81 L504.00 439.81 L504.20 439.81 L504.40 439.81 L504.60 439.81 L504.80 439.81 L505.00 439.80 L505.20 439.80 L505.40 439.80 L505.60 439.80 L505.80 439.79 L506.00 439.79 L506.20 439.79 L506.40 439.79 L506.60 439.78 L506.80 439.78 L507.00 439.78 L507.20 439.77 L507.40 439.77 L507.60 439.76 L507.80 439.76 L508.00 439.76 L508.20 439.75 L508.40 439.75 L508.60 439.74 L508.80 439.74 L509.00 439.73 L509.20 439.72 L509.40 439.72 L509.60 439.71 L509.80 439.71 L510.00 439.70 L510.20 439.69 L510.40 439.69 L510.60 439.68 L510.80 439.67 L511.00 439.66 L511.20 439.65 L511.40 439.65 L511.60 439.64 L511.80 439.63 L512.00 439.62 L512.20 439.61 L512.40 439.60 L512.60 439.58 L512.80 439.57 L513.00 439.56 L513.20 439.55 L513.40 439.53 L513.60 439.52 L513.80 439.50 L514.00 439.49 L514.20 439.47 L514.40 439.45 L514.60 439.43 L514.80 439.41 L515.00 439.39 L515.20 439.37 L515.40 439.35 L515.60 439.32 L515.80 439.30 L516.00 439.27 L516.20 439.24 L516.40 439.21 L516.60 439.18 L516.80 439.14 L517.00 439.11 L517.20 439.07 L517.40 439.03 L517.60 438.99 L517.80 438.94 L518.00 438.89 L518.20 438.84 L518.40 438.79 L518.60 438.74 L518.80 438.68 L519.00 438.62 L519.20 438.56 L519.40 438.50 L519.60 438.44 L519.80 438.38 L520.00 438.32 L520.20 438.25 L520.40 438.19 L520.60 438.14 L520.80 438.08 L521.00 438.04 L521.20 437.99 L521.40 437.96 L521.60 437.93 L521.80 437.91 L522.00 437.90 L522.00 437.90 L522.20 437.90 L522.40 437.90 L522.60 437.92 L522.80 437.94 L523.00 437.97 L523.20 438.00 L523.40 438.04 L523.60 438.08 L523.80 438.13 L524.00 438.17 L524.20 438.22 L524.40 438.27 L524.60 438.31 L524.80 438.36 L525.00 438.40 L525.20 438.44 L525.40 438.47 L525.60 438.51 L525.80 438.54 L526.00 438.57 L526.20 438.59 L526.40 438.61 L526.60 438.62 L526.80 438.64 L527.00 438.64 L527.20 438.65 L527.40 438.64 L527.60 438.64 L527.80 438.63 L528.00 438.61 L528.20 438.58 L528.40 438.55 L528.60 438.51 L528.80 438.46 L529.00 438.40 L529.20 438.33 L529.40 438.24 L529.60 438.12 L529.80 437.98 L530.00 437.80 L530.20 437.57 L530.40 437.26 L530.60 436.88 L530.80 436.38 L531.00 435.76 L531.20 434.99 L531.40 434.05 L531.60 432.95 L531.80 431.70 L532.00 430.35 L532.20 428.99 L532.40 427.77 L532.60 426.91 L532.80 426.60 L532.80 426.60 L533.00 426.91 L533.20 427.77 L533.40 428.97 L533.60 430.33 L533.80 431.68 L534.00 432.93 L534.20 434.02 L534.40 434.95 L534.60 435.72 L534.80 436.34 L535.00 436.83 L535.20 437.22 L535.40 437.51 L535.60 437.75 L535.80 437.93 L536.00 438.07 L536.20 438.18 L536.40 438.27 L536.60 438.35 L536.80 438.41 L537.00 438.46 L537.20 438.50 L537.40 438.53 L537.60 438.56 L537.80 438.58 L538.00 438.60 L538.20 438.61 L538.40 438.62 L538.60 438.62 L538.80 438.63 L539.00 438.63 L539.20 438.62 L539.40 438.62 L539.60 438.61 L539.80 438.60 L540.00 438.58 L540.20 438.57 L540.40 438.55 L540.60 438.53 L540.80 438.51 L541.00 438.48 L541.20 438.46 L541.40 438.43 L541.60 438.40 L541.80 438.36 L542.00 438.33 L542.20 438.29 L542.40 438.25 L542.60 438.21 L542.80 438.17 L543.00 438.12 L543.20 438.07 L543.40 438.02 L543.60 437.96 L543.80 437.90 L544.00 437.84 L544.20 437.78 L544.40 437.71 L544.60 437.64 L544.80 437.56 L545.00 437.48 L545.20 437.40 L545.40 437.31 L545.60 437.22 L545.80 437.12 L546.00 437.02 L546.20 436.91 L546.40 436.80 L546.60 436.68 L546.80 436.55 L547.00 436.42 L547.20 436.29 L547.40 436.14 L547.60 435.99 L547.80 435.84 L548.00 435.67" fill="none" stroke="#000" stroke-width="0.80" stroke-linejoin="round"/>
<path d="M332.25 268.95h2.90v2.90h-2.90zM321.35 414.65h2.90v2.90h-2.90zM366.35 419.75h2.90v2.90h-2.90zM408.45 282.15h2.90v2.90h-2.90zM417.85 424.95h2.90v2.90h-2.90zM434.65 424.95h2.90v2.90h-2.90zM441.15 423.05h2.90v2.90h-2.90zM468.75 425.75h2.90v2.90h-2.90zM519.55 429.15h2.90v2.90h-2.90z" fill="#f414e8" stroke="#c818c0" stroke-width="0.5"/>
<path d="M344.15 292.45h2.90v2.90h-2.90zM338.55 319.45h2.90v2.90h-2.90zM329.45 342.75h2.90v2.90h-2.90zM378.75 401.45h2.90v2.90h-2.90zM404.85 376.05h2.90v2.90h-2.90zM427.65 401.45h2.90v2.90h-2.90zM439.05 428.85h2.90v2.90h-2.90zM444.55 414.85h2.90v2.90h-2.90zM448.75 414.85h2.90v2.90h-2.90zM461.75 421.95h2.90v2.90h-2.90zM477.15 424.35h2.90v2.90h-2.90zM495.55 425.55h2.90v2.90h-2.90zM531.35 418.15h2.90v2.90h-2.90z" fill="#12e212" stroke="#10c010" stroke-width="0.5"/>
<path d="M341.15 391.25h2.90v2.90h-2.90zM389.85 428.05h2.90v2.90h-2.90zM431.05 420.95h2.90v2.90h-2.90zM472.15 419.75h2.90v2.90h-2.90z" fill="#1414f0" stroke="#1010c8" stroke-width="0.5"/>
<g fill="#111" stroke="#111" stroke-width="0.25">
<rect x="504.30" y="266.60" width="2.60" height="2.60" fill="#f414e8" stroke="#c818c0" stroke-width="0.4"/>
<text transform="translate(511.00 270.90) scale(1.000 1.050)" font-size="9.50">MoN</text>
<rect x="504.40" y="282.90" width="2.60" height="2.60" fill="#12e212" stroke="#10c010" stroke-width="0.4"/>
<text transform="translate(511.00 286.90) scale(1.300 1.050)" font-size="9.50">α</text>
<text transform="translate(517.80 286.90) scale(1.000 1.050)" font-size="9.50">Ti</text>
<rect x="504.20" y="298.70" width="2.60" height="2.60" fill="#1414f0" stroke="#1010c8" stroke-width="0.4"/>
<text transform="translate(511.30 304.20) scale(1.000 1.050)" font-size="9.50">β</text>
<text transform="translate(517.80 304.20) scale(1.000 1.050)" font-size="9.50">Ti</text>
</g>
<text x="418.10" y="489.10" font-family="'Liberation Serif', 'DejaVu Serif', serif" font-size="10.50" text-anchor="middle" fill="#111" stroke="#111" stroke-width="0.15">(<tspan font-weight="bold">d</tspan>)</text>
</g>
</svg>
</body></html>
